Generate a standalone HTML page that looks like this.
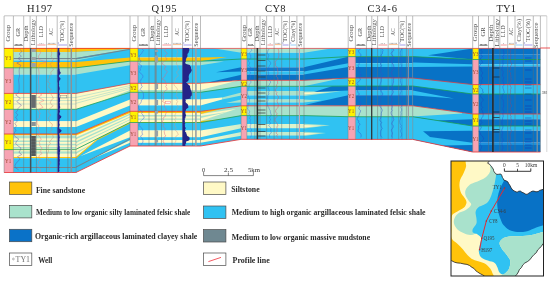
<!DOCTYPE html>
<html lang="en"><head><meta charset="utf-8"><title>Well correlation profile</title>
<style>html,body{margin:0;padding:0;background:#fff;}svg{display:block;}</style></head>
<body>
<svg width="550" height="281" viewBox="0 0 550 281" font-family="'Liberation Serif', serif">
<rect x="0.0" y="0.0" width="550.0" height="281.0" fill="#FFFFFF" />
<defs><linearGradient id="pg" gradientUnits="userSpaceOnUse" x1="205" y1="0" x2="241" y2="0"><stop offset="0" stop-color="#FFF9C6"/><stop offset="1" stop-color="#CDEECD"/></linearGradient></defs>
<polygon points="76.0,48.0 130.0,48.0 130.0,146.0 76.0,172.5" fill="#30C2F2" />
<polygon points="76.0,48.0 130.0,48.0 130.0,49.0 76.0,52.0" fill="#FFC30A" />
<polygon points="76.0,52.0 130.0,49.0 76.0,58.0" fill="#A9E2CC" />
<polygon points="76.0,58.0 130.0,48.7 130.0,49.7 76.0,59.5" fill="#6F8891" />
<polygon points="76.0,59.5 105.0,55.0 76.0,60.4" fill="#A9E2CC" />
<polygon points="76.0,62.0 130.0,57.5 130.0,61.2 76.0,67.8" fill="#FFC30A" />
<polygon points="76.0,67.8 130.0,61.2 130.0,65.2 76.0,74.6" fill="#A9E2CC" />
<polygon points="76.0,93.4 130.0,83.4 130.0,92.3 76.0,109.3" fill="#FFF9C6" />
<polygon points="130.0,90.0 130.0,92.3 100.0,101.7" fill="#A9E2CC" />
<line x1="76.0" y1="97.4" x2="130.0" y2="85.6" stroke="#8FD3C8" stroke-width="0.50" />
<line x1="76.0" y1="100.6" x2="130.0" y2="87.3" stroke="#8FD3C8" stroke-width="0.50" />
<line x1="76.0" y1="103.3" x2="130.0" y2="88.7" stroke="#8FD3C8" stroke-width="0.50" />
<polygon points="76.0,121.3 130.0,99.6 130.0,105.4 76.0,127.0" fill="#FFF9C6" />
<polygon points="76.0,134.0 130.0,111.0 130.0,122.4 76.0,149.3" fill="#FFF9C6" />
<polygon points="76.0,137.4 130.0,113.5 130.0,114.9 76.0,139.2" fill="#A9E2CC" />
<polygon points="76.0,141.3 130.0,116.5 130.0,117.6 76.0,142.9" fill="#A9E2CC" />
<polygon points="76.0,145.0 130.0,119.2 130.0,120.1 76.0,146.2" fill="#A9E2CC" />
<polygon points="76.0,134.0 130.0,111.0 130.0,113.0 76.0,135.6" fill="#FFC30A" />
<polygon points="76.0,149.3 100.0,137.5 76.0,157.0" fill="#FFF9C6" />
<polygon points="76.0,152.0 92.0,144.0 76.0,154.0" fill="#A9E2CC" />
<polygon points="130.0,130.5 130.0,137.2 80.0,156.2" fill="#FFF9C6" />
<polygon points="130.0,140.2 130.0,142.8 86.0,161.5" fill="#FFF9C6" />
<polygon points="76.0,157.0 97.0,139.2 130.0,122.6 130.0,123.4 97.0,140.2 76.0,158.4" fill="#FFC30A" />
<polygon points="76.0,166.6 130.0,138.6 130.0,139.4 76.0,167.8" fill="#6F8891" />
<line x1="76.0" y1="48.4" x2="130.0" y2="48.4" stroke="#EE4A24" stroke-width="1.00" />
<line x1="76.0" y1="67.8" x2="130.0" y2="61.2" stroke="#1A9C4C" stroke-width="0.75" />
<line x1="76.0" y1="93.4" x2="130.0" y2="83.4" stroke="#E8383A" stroke-width="0.75" />
<line x1="76.0" y1="109.3" x2="130.0" y2="92.3" stroke="#1A9C4C" stroke-width="0.75" />
<line x1="76.0" y1="134.0" x2="130.0" y2="111.2" stroke="#E8383A" stroke-width="0.75" />
<line x1="76.0" y1="149.3" x2="130.0" y2="122.4" stroke="#1A9C4C" stroke-width="0.75" />
<line x1="76.0" y1="172.5" x2="130.0" y2="146.0" stroke="#E8383A" stroke-width="0.85" />
<polygon points="200.5,48.0 241.3,48.0 241.3,139.3 200.5,146.0" fill="#30C2F2" />
<polygon points="241.3,48.0 213.0,48.3 241.3,52.8" fill="#A9E2CC" />
<polygon points="200.5,57.5 227.0,57.0 200.5,61.2" fill="#FFC30A" />
<polygon points="200.5,61.2 224.0,61.4 200.5,65.2" fill="#A9E2CC" />
<polygon points="241.3,67.3 216.0,72.3 241.3,71.4" fill="#0872C6" />
<polygon points="241.3,74.8 209.0,82.3 241.3,80.3" fill="#0872C6" />
<polygon points="200.5,83.2 241.3,80.3 241.3,86.3 200.5,92.3" fill="#A9E2CC" />
<polygon points="200.5,83.2 238.0,80.6 200.5,90.0" fill="#FFF9C6" />
<polygon points="200.5,99.6 222.0,97.6 222.0,99.4 200.5,105.4" fill="#FFF9C6" />
<polygon points="222.0,97.6 241.3,92.5 241.3,95.6 222.0,99.4" fill="#A9E2CC" />
<polygon points="241.3,99.6 226.0,103.0 241.3,102.4" fill="#A9E2CC" />
<polygon points="200.5,111.4 241.3,105.8 241.3,115.6 200.5,122.6" fill="#A9E2CC" />
<polygon points="200.5,114.0 236.0,109.0 200.5,121.0" fill="#FFF9C6" />
<polygon points="200.5,116.0 230.0,111.5 200.5,118.0" fill="#A9E2CC" />
<polygon points="200.5,111.4 226.0,107.9 200.5,114.0" fill="#FFC30A" />
<polygon points="200.5,121.0 222.0,119.3 200.5,122.6" fill="#FFC30A" />
<polygon points="200.5,130.5 241.3,124.0 241.3,128.2 200.5,137.2" fill="url(#pg)" />
<polygon points="200.5,140.2 241.3,132.0 241.3,135.8 200.5,142.8" fill="url(#pg)" />
<line x1="200.5" y1="48.4" x2="241.3" y2="48.4" stroke="#EE5A5A" stroke-width="0.85" />
<line x1="200.5" y1="61.2" x2="241.3" y2="59.0" stroke="#1A9C4C" stroke-width="0.75" />
<line x1="200.5" y1="83.2" x2="241.3" y2="80.3" stroke="#E8383A" stroke-width="0.75" />
<line x1="200.5" y1="92.3" x2="241.3" y2="86.3" stroke="#1A9C4C" stroke-width="0.75" />
<line x1="200.5" y1="111.4" x2="241.3" y2="105.8" stroke="#E8383A" stroke-width="0.75" />
<line x1="200.5" y1="122.6" x2="241.3" y2="115.6" stroke="#1A9C4C" stroke-width="0.75" />
<line x1="200.5" y1="146.0" x2="241.3" y2="139.3" stroke="#E8383A" stroke-width="0.85" />
<polygon points="304.0,48.0 348.2,48.0 348.2,139.4 304.0,139.3" fill="#30C2F2" />
<polygon points="304.0,48.3 331.0,48.6 304.0,52.8" fill="#A9E2CC" />
<polygon points="304.0,67.3 348.2,56.8 348.2,63.2 304.0,71.4" fill="#0872C6" />
<polygon points="304.0,74.6 348.2,67.0 348.2,78.0 304.0,80.3" fill="#0872C6" />
<polygon points="304.0,80.5 340.0,78.6 304.0,86.2" fill="#A9E2CC" />
<polygon points="304.0,91.4 341.0,91.3 304.0,96.0" fill="#A9E2CC" />
<polygon points="304.0,92.6 330.0,92.0 304.0,94.6" fill="#FFF9C6" />
<polygon points="348.2,86.2 332.0,86.3 314.0,92.0 348.2,90.6" fill="#0872C6" />
<polygon points="348.2,95.2 305.5,104.8 348.2,105.8" fill="#0872C6" />
<polygon points="304.0,99.6 322.0,100.4 304.0,102.4" fill="#A9E2CC" />
<polygon points="304.0,105.8 348.2,105.8 348.2,116.7 304.0,115.6" fill="#A9E2CC" />
<polygon points="304.0,123.8 330.0,125.3 304.0,128.5" fill="#A9E2CC" />
<polygon points="304.0,125.0 322.0,125.8 304.0,127.4" fill="#FFF9C6" />
<polygon points="304.0,131.8 326.0,133.0 304.0,136.0" fill="#A9E2CC" />
<polygon points="304.0,133.0 319.0,133.5 304.0,135.0" fill="#FFF9C6" />
<line x1="304.0" y1="48.4" x2="348.2" y2="48.4" stroke="#EE5A5A" stroke-width="0.85" />
<line x1="304.0" y1="59.0" x2="348.2" y2="56.6" stroke="#1A9C4C" stroke-width="0.75" />
<line x1="304.0" y1="80.3" x2="348.2" y2="78.0" stroke="#E8383A" stroke-width="0.75" />
<line x1="304.0" y1="86.3" x2="348.2" y2="86.0" stroke="#1A9C4C" stroke-width="0.75" />
<line x1="304.0" y1="105.8" x2="348.2" y2="105.8" stroke="#E8383A" stroke-width="0.75" />
<line x1="304.0" y1="115.6" x2="348.2" y2="116.7" stroke="#1A9C4C" stroke-width="0.75" />
<line x1="304.0" y1="139.3" x2="348.2" y2="139.4" stroke="#E8383A" stroke-width="0.85" />
<polygon points="412.8,48.0 472.7,48.0 472.7,152.0 412.8,139.4" fill="#0872C6" />
<polygon points="412.8,48.0 472.7,48.0 472.7,59.5 412.8,56.6" fill="#30C2F2" />
<polygon points="428.0,55.3 472.7,48.6 472.7,59.5" fill="#0872C6" />
<polygon points="412.8,62.5 472.7,64.3 472.7,66.4 412.8,67.0" fill="#30C2F2" />
<polygon points="412.8,78.0 472.7,84.6 472.7,94.0 412.8,86.0" fill="#30C2F2" />
<polygon points="412.8,90.6 454.0,98.5 412.8,95.2" fill="#30C2F2" />
<polygon points="412.8,105.8 472.7,114.0 472.7,126.0 412.8,116.7" fill="#30C2F2" />
<polygon points="412.8,105.8 462.0,112.6 462.0,113.6 412.8,116.4" fill="#A9E2CC" />
<polygon points="472.7,119.2 436.0,120.6 472.7,126.0" fill="#0872C6" />
<polygon points="412.8,116.7 412.8,139.4 472.7,152.0 472.7,126.0" fill="#30C2F2" />
<polygon points="472.7,130.7 423.0,131.2 430.0,137.0 472.7,142.7" fill="#0872C6" />
<polygon points="472.7,145.0 442.0,145.5 472.7,152.0" fill="#0872C6" />
<line x1="412.8" y1="48.4" x2="472.7" y2="48.4" stroke="#EE5A5A" stroke-width="0.85" />
<line x1="412.8" y1="56.6" x2="472.7" y2="59.5" stroke="#1A9C4C" stroke-width="0.75" />
<line x1="412.8" y1="78.0" x2="472.7" y2="84.6" stroke="#E8383A" stroke-width="0.75" />
<line x1="412.8" y1="86.0" x2="472.7" y2="94.0" stroke="#1A9C4C" stroke-width="0.75" />
<line x1="412.8" y1="105.8" x2="472.7" y2="114.0" stroke="#E8383A" stroke-width="0.75" />
<line x1="412.8" y1="116.7" x2="472.7" y2="126.0" stroke="#1A9C4C" stroke-width="0.75" />
<line x1="412.8" y1="139.4" x2="472.7" y2="152.0" stroke="#E8383A" stroke-width="0.85" />
<rect x="4.1" y="16.0" width="71.8" height="32.0" fill="#FFFFFF" />
<rect x="13.4" y="48.0" width="62.5" height="4.0" fill="#FFC30A" />
<rect x="13.4" y="52.0" width="62.5" height="6.0" fill="#A9E2CC" />
<rect x="13.4" y="58.0" width="62.5" height="1.5" fill="#6F8891" />
<rect x="13.4" y="59.5" width="62.5" height="0.9" fill="#A9E2CC" />
<rect x="13.4" y="60.4" width="62.5" height="1.6" fill="#30C2F2" />
<rect x="13.4" y="62.0" width="62.5" height="5.8" fill="#FFC30A" />
<rect x="13.4" y="67.8" width="62.5" height="6.8" fill="#A9E2CC" />
<rect x="13.4" y="74.6" width="62.5" height="18.8" fill="#30C2F2" />
<rect x="13.4" y="93.4" width="62.5" height="15.9" fill="#FFF9C6" />
<rect x="13.4" y="109.3" width="62.5" height="12.0" fill="#30C2F2" />
<rect x="13.4" y="121.3" width="62.5" height="5.7" fill="#FFF9C6" />
<rect x="13.4" y="127.0" width="62.5" height="7.0" fill="#30C2F2" />
<rect x="13.4" y="134.0" width="62.5" height="1.5" fill="#FFC30A" />
<rect x="13.4" y="135.5" width="62.5" height="21.5" fill="#FFF9C6" />
<rect x="13.4" y="157.0" width="62.5" height="1.2" fill="#FFC30A" />
<rect x="13.4" y="158.2" width="62.5" height="8.8" fill="#30C2F2" />
<rect x="13.4" y="167.0" width="62.5" height="1.0" fill="#6F8891" />
<rect x="13.4" y="168.0" width="62.5" height="4.5" fill="#30C2F2" />
<rect x="4.1" y="48.0" width="9.3" height="20.0" fill="#FFF200" />
<text transform="translate(8.1,60.1) scale(1,1.28)" font-size="5" text-anchor="middle" fill="#9c4a34">Y3</text>
<rect x="4.1" y="68.0" width="9.3" height="25.4" fill="#F7A3B2" />
<text transform="translate(8.1,82.9) scale(1,1.28)" font-size="5" text-anchor="middle" fill="#9c4a34">Y3</text>
<rect x="4.1" y="93.4" width="9.3" height="15.9" fill="#FFF200" />
<text transform="translate(8.1,103.5) scale(1,1.28)" font-size="5" text-anchor="middle" fill="#9c4a34">Y2</text>
<rect x="4.1" y="109.3" width="9.3" height="24.7" fill="#F7A3B2" />
<text transform="translate(8.1,123.8) scale(1,1.28)" font-size="5" text-anchor="middle" fill="#9c4a34">Y2</text>
<rect x="4.1" y="134.0" width="9.3" height="16.0" fill="#FFF200" />
<text transform="translate(8.1,144.2) scale(1,1.28)" font-size="5" text-anchor="middle" fill="#9c4a34">Y1</text>
<rect x="4.1" y="150.0" width="9.3" height="22.5" fill="#F7A3B2" />
<text transform="translate(8.1,163.4) scale(1,1.28)" font-size="5" text-anchor="middle" fill="#9c4a34">Y1</text>
<rect x="130.0" y="16.0" width="70.5" height="32.0" fill="#FFFFFF" />
<rect x="138.0" y="48.0" width="62.5" height="9.5" fill="#30C2F2" />
<rect x="138.0" y="57.5" width="62.5" height="3.7" fill="#FFC30A" />
<rect x="138.0" y="61.2" width="62.5" height="4.0" fill="#A9E2CC" />
<rect x="138.0" y="65.2" width="62.5" height="17.8" fill="#30C2F2" />
<rect x="138.0" y="83.0" width="62.5" height="7.0" fill="#FFF9C6" />
<rect x="138.0" y="90.0" width="62.5" height="2.3" fill="#A9E2CC" />
<rect x="138.0" y="92.3" width="62.5" height="7.3" fill="#30C2F2" />
<rect x="138.0" y="99.6" width="62.5" height="5.8" fill="#FFF9C6" />
<rect x="138.0" y="105.4" width="62.5" height="5.6" fill="#30C2F2" />
<rect x="138.0" y="111.0" width="62.5" height="2.0" fill="#FFC30A" />
<rect x="138.0" y="113.0" width="62.5" height="9.0" fill="#FFF9C6" />
<rect x="138.0" y="122.0" width="62.5" height="0.8" fill="#FFC30A" />
<rect x="138.0" y="122.8" width="62.5" height="7.7" fill="#30C2F2" />
<rect x="138.0" y="130.5" width="62.5" height="6.7" fill="#FFF9C6" />
<rect x="138.0" y="137.2" width="62.5" height="3.0" fill="#30C2F2" />
<rect x="138.0" y="140.2" width="62.5" height="2.6" fill="#FFF9C6" />
<rect x="138.0" y="142.8" width="62.5" height="3.2" fill="#30C2F2" />
<rect x="130.0" y="48.0" width="8.0" height="13.3" fill="#FFF200" />
<text transform="translate(133.3,56.8) scale(1,1.28)" font-size="5" text-anchor="middle" fill="#9c4a34">Y3</text>
<rect x="130.0" y="61.3" width="8.0" height="22.1" fill="#F7A3B2" />
<text transform="translate(133.3,74.5) scale(1,1.28)" font-size="5" text-anchor="middle" fill="#9c4a34">Y3</text>
<rect x="130.0" y="83.4" width="8.0" height="8.9" fill="#FFF200" />
<text transform="translate(133.3,90.0) scale(1,1.28)" font-size="5" text-anchor="middle" fill="#9c4a34">Y2</text>
<rect x="130.0" y="92.3" width="8.0" height="19.0" fill="#F7A3B2" />
<text transform="translate(133.3,104.0) scale(1,1.28)" font-size="5" text-anchor="middle" fill="#9c4a34">Y2</text>
<rect x="130.0" y="111.3" width="8.0" height="11.2" fill="#FFF200" />
<text transform="translate(133.3,119.1) scale(1,1.28)" font-size="5" text-anchor="middle" fill="#9c4a34">Y1</text>
<rect x="130.0" y="122.5" width="8.0" height="23.5" fill="#F7A3B2" />
<text transform="translate(133.3,136.4) scale(1,1.28)" font-size="5" text-anchor="middle" fill="#9c4a34">Y1</text>
<rect x="241.2" y="16.0" width="62.8" height="32.0" fill="#FFFFFF" />
<rect x="246.8" y="48.0" width="57.2" height="4.8" fill="#A9E2CC" />
<rect x="246.8" y="52.8" width="57.2" height="14.5" fill="#30C2F2" />
<rect x="246.8" y="67.3" width="57.2" height="4.1" fill="#0F7CCE" />
<rect x="246.8" y="71.4" width="57.2" height="3.2" fill="#30C2F2" />
<rect x="246.8" y="74.6" width="57.2" height="5.7" fill="#0872C6" />
<rect x="246.8" y="80.3" width="57.2" height="6.0" fill="#A9E2CC" />
<rect x="246.8" y="86.3" width="57.2" height="4.7" fill="#30C2F2" />
<rect x="246.8" y="91.0" width="57.2" height="4.4" fill="#A9E2CC" />
<rect x="246.8" y="95.4" width="57.2" height="4.2" fill="#30C2F2" />
<rect x="246.8" y="99.6" width="57.2" height="2.8" fill="#A9E2CC" />
<rect x="246.8" y="102.4" width="57.2" height="3.4" fill="#30C2F2" />
<rect x="246.8" y="105.8" width="57.2" height="9.8" fill="#A9E2CC" />
<rect x="246.8" y="115.6" width="57.2" height="8.4" fill="#30C2F2" />
<rect x="246.8" y="124.0" width="57.2" height="4.2" fill="#DDF3CC" />
<rect x="246.8" y="128.2" width="57.2" height="3.8" fill="#30C2F2" />
<rect x="246.8" y="132.0" width="57.2" height="3.8" fill="#C4EBCD" />
<rect x="246.8" y="135.5" width="57.2" height="3.8" fill="#30C2F2" />
<rect x="241.2" y="48.0" width="5.6" height="11.0" fill="#FFF200" />
<text transform="translate(243.9,55.6) scale(1,1.28)" font-size="5" text-anchor="middle" fill="#9c4a34">Y3</text>
<rect x="241.2" y="59.0" width="5.6" height="21.3" fill="#F7A3B2" />
<text transform="translate(243.9,71.8) scale(1,1.28)" font-size="5" text-anchor="middle" fill="#9c4a34">Y3</text>
<rect x="241.2" y="80.3" width="5.6" height="6.0" fill="#FFF200" />
<text transform="translate(243.9,85.5) scale(1,1.28)" font-size="5" text-anchor="middle" fill="#9c4a34">Y2</text>
<rect x="241.2" y="86.3" width="5.6" height="19.5" fill="#F7A3B2" />
<text transform="translate(243.9,98.2) scale(1,1.28)" font-size="5" text-anchor="middle" fill="#9c4a34">Y2</text>
<rect x="241.2" y="105.8" width="5.6" height="9.8" fill="#FFF200" />
<text transform="translate(243.9,112.8) scale(1,1.28)" font-size="5" text-anchor="middle" fill="#9c4a34">Y1</text>
<rect x="241.2" y="115.6" width="5.6" height="23.7" fill="#F7A3B2" />
<text transform="translate(243.9,129.6) scale(1,1.28)" font-size="5" text-anchor="middle" fill="#9c4a34">Y1</text>
<rect x="348.2" y="16.0" width="64.5" height="32.0" fill="#FFFFFF" />
<rect x="355.4" y="48.0" width="57.3" height="8.6" fill="#30C2F2" />
<rect x="355.4" y="56.6" width="57.3" height="6.6" fill="#0872C6" />
<rect x="355.4" y="63.2" width="57.3" height="3.8" fill="#30C2F2" />
<rect x="355.4" y="67.0" width="57.3" height="11.0" fill="#0872C6" />
<rect x="355.4" y="78.0" width="57.3" height="8.0" fill="#30C2F2" />
<rect x="355.4" y="86.0" width="57.3" height="4.6" fill="#0872C6" />
<rect x="355.4" y="90.6" width="57.3" height="4.6" fill="#30C2F2" />
<rect x="355.4" y="95.2" width="57.3" height="10.6" fill="#0872C6" />
<rect x="355.4" y="105.8" width="57.3" height="10.9" fill="#A9E2CC" />
<rect x="355.4" y="116.7" width="57.3" height="22.7" fill="#30C2F2" />
<rect x="348.2" y="48.0" width="7.2" height="8.6" fill="#FFF200" />
<text transform="translate(351.1,54.4) scale(1,1.28)" font-size="5" text-anchor="middle" fill="#9c4a34">Y3</text>
<rect x="348.2" y="56.6" width="7.2" height="21.4" fill="#F7A3B2" />
<text transform="translate(351.1,69.5) scale(1,1.28)" font-size="5" text-anchor="middle" fill="#9c4a34">Y3</text>
<rect x="348.2" y="78.0" width="7.2" height="8.0" fill="#FFF200" />
<text transform="translate(351.1,84.2) scale(1,1.28)" font-size="5" text-anchor="middle" fill="#9c4a34">Y2</text>
<rect x="348.2" y="86.0" width="7.2" height="19.8" fill="#F7A3B2" />
<text transform="translate(351.1,98.1) scale(1,1.28)" font-size="5" text-anchor="middle" fill="#9c4a34">Y2</text>
<rect x="348.2" y="105.8" width="7.2" height="10.9" fill="#FFF200" />
<text transform="translate(351.1,113.4) scale(1,1.28)" font-size="5" text-anchor="middle" fill="#9c4a34">Y1</text>
<rect x="348.2" y="116.7" width="7.2" height="22.7" fill="#F7A3B2" />
<text transform="translate(351.1,130.2) scale(1,1.28)" font-size="5" text-anchor="middle" fill="#9c4a34">Y1</text>
<rect x="472.7" y="16.0" width="67.7" height="32.0" fill="#FFFFFF" />
<rect x="478.5" y="48.0" width="61.9" height="6.7" fill="#0872C6" />
<rect x="478.5" y="54.7" width="61.9" height="9.6" fill="#0F7FD2" />
<rect x="478.5" y="64.3" width="61.9" height="2.1" fill="#30C2F2" />
<rect x="478.5" y="66.4" width="61.9" height="18.2" fill="#0872C6" />
<rect x="478.5" y="84.6" width="61.9" height="9.4" fill="#30C2F2" />
<rect x="478.5" y="94.0" width="61.9" height="20.0" fill="#0872C6" />
<rect x="478.5" y="114.0" width="61.9" height="5.2" fill="#30C2F2" />
<rect x="478.5" y="119.2" width="61.9" height="6.8" fill="#0872C6" />
<rect x="478.5" y="126.0" width="61.9" height="4.7" fill="#30C2F2" />
<rect x="478.5" y="130.7" width="61.9" height="12.0" fill="#0872C6" />
<rect x="478.5" y="142.7" width="61.9" height="2.3" fill="#1C90DC" />
<rect x="478.5" y="145.0" width="61.9" height="7.0" fill="#0872C6" />
<rect x="472.7" y="48.0" width="5.8" height="11.5" fill="#FFF200" />
<text transform="translate(475.5,55.9) scale(1,1.28)" font-size="5" text-anchor="middle" fill="#9c4a34">Y3</text>
<rect x="472.7" y="59.5" width="5.8" height="25.1" fill="#F7A3B2" />
<text transform="translate(475.5,74.2) scale(1,1.28)" font-size="5" text-anchor="middle" fill="#9c4a34">Y3</text>
<rect x="472.7" y="84.6" width="5.8" height="9.4" fill="#FFF200" />
<text transform="translate(475.5,91.5) scale(1,1.28)" font-size="5" text-anchor="middle" fill="#9c4a34">Y2</text>
<rect x="472.7" y="94.0" width="5.8" height="20.0" fill="#F7A3B2" />
<text transform="translate(475.5,106.2) scale(1,1.28)" font-size="5" text-anchor="middle" fill="#9c4a34">Y2</text>
<rect x="472.7" y="114.0" width="5.8" height="12.0" fill="#FFF200" />
<text transform="translate(475.5,122.2) scale(1,1.28)" font-size="5" text-anchor="middle" fill="#9c4a34">Y1</text>
<rect x="472.7" y="126.0" width="5.8" height="26.0" fill="#F7A3B2" />
<text transform="translate(475.5,141.2) scale(1,1.28)" font-size="5" text-anchor="middle" fill="#9c4a34">Y1</text>
<line x1="13.4" y1="97.5" x2="75.9" y2="97.5" stroke="#8FD3C8" stroke-width="0.50" />
<line x1="13.4" y1="100.5" x2="75.9" y2="100.5" stroke="#8FD3C8" stroke-width="0.50" />
<line x1="13.4" y1="104.0" x2="75.9" y2="104.0" stroke="#8FD3C8" stroke-width="0.50" />
<rect x="13.4" y="135.5" width="62.5" height="2.8" fill="#A9E2CC" />
<rect x="13.4" y="140.5" width="62.5" height="1.5" fill="#A9E2CC" />
<rect x="13.4" y="143.8" width="62.5" height="1.5" fill="#A9E2CC" />
<rect x="13.4" y="147.0" width="62.5" height="1.6" fill="#A9E2CC" />
<rect x="13.4" y="151.4" width="62.5" height="2.2" fill="#A9E2CC" />
<rect x="138.0" y="115.0" width="62.5" height="1.5" fill="#A9E2CC" />
<rect x="138.0" y="118.5" width="62.5" height="1.3" fill="#A9E2CC" />
<line x1="4.1" y1="48.4" x2="75.9" y2="48.4" stroke="#EE4A24" stroke-width="1.00" />
<line x1="4.1" y1="67.8" x2="75.9" y2="67.8" stroke="#1A9C4C" stroke-width="0.75" />
<line x1="4.1" y1="93.4" x2="75.9" y2="93.4" stroke="#E8383A" stroke-width="0.85" />
<line x1="4.1" y1="109.3" x2="75.9" y2="109.3" stroke="#1A9C4C" stroke-width="0.75" />
<line x1="4.1" y1="134.0" x2="75.9" y2="134.0" stroke="#E8383A" stroke-width="0.85" />
<line x1="4.1" y1="149.6" x2="75.9" y2="149.6" stroke="#1A9C4C" stroke-width="0.75" />
<line x1="4.1" y1="172.5" x2="75.9" y2="172.5" stroke="#E8383A" stroke-width="0.85" />
<line x1="130.0" y1="48.4" x2="200.5" y2="48.4" stroke="#EE5A5A" stroke-width="0.85" />
<line x1="130.0" y1="61.2" x2="200.5" y2="61.2" stroke="#1A9C4C" stroke-width="0.75" />
<line x1="130.0" y1="83.3" x2="200.5" y2="83.3" stroke="#E8383A" stroke-width="0.85" />
<line x1="130.0" y1="92.3" x2="200.5" y2="92.3" stroke="#1A9C4C" stroke-width="0.75" />
<line x1="130.0" y1="111.3" x2="200.5" y2="111.3" stroke="#E8383A" stroke-width="0.85" />
<line x1="130.0" y1="122.5" x2="200.5" y2="122.5" stroke="#1A9C4C" stroke-width="0.75" />
<line x1="130.0" y1="146.0" x2="200.5" y2="146.0" stroke="#E8383A" stroke-width="0.85" />
<line x1="241.2" y1="48.4" x2="304.0" y2="48.4" stroke="#EE5A5A" stroke-width="0.85" />
<line x1="241.2" y1="59.0" x2="304.0" y2="59.0" stroke="#1A9C4C" stroke-width="0.75" />
<line x1="241.2" y1="80.3" x2="304.0" y2="80.3" stroke="#E8383A" stroke-width="0.85" />
<line x1="241.2" y1="86.3" x2="304.0" y2="86.3" stroke="#1A9C4C" stroke-width="0.75" />
<line x1="241.2" y1="105.8" x2="304.0" y2="105.8" stroke="#E8383A" stroke-width="0.85" />
<line x1="241.2" y1="115.6" x2="304.0" y2="115.6" stroke="#1A9C4C" stroke-width="0.75" />
<line x1="241.2" y1="139.3" x2="304.0" y2="139.3" stroke="#E8383A" stroke-width="0.85" />
<line x1="348.2" y1="48.4" x2="412.7" y2="48.4" stroke="#EE5A5A" stroke-width="0.85" />
<line x1="348.2" y1="56.6" x2="412.7" y2="56.6" stroke="#1A9C4C" stroke-width="0.75" />
<line x1="348.2" y1="78.0" x2="412.7" y2="78.0" stroke="#E8383A" stroke-width="0.85" />
<line x1="348.2" y1="86.0" x2="412.7" y2="86.0" stroke="#1A9C4C" stroke-width="0.75" />
<line x1="348.2" y1="105.8" x2="412.7" y2="105.8" stroke="#E8383A" stroke-width="0.85" />
<line x1="348.2" y1="116.7" x2="412.7" y2="116.7" stroke="#1A9C4C" stroke-width="0.75" />
<line x1="348.2" y1="139.4" x2="412.7" y2="139.4" stroke="#E8383A" stroke-width="0.85" />
<line x1="472.7" y1="48.4" x2="540.4" y2="48.4" stroke="#EE5A5A" stroke-width="0.85" />
<line x1="472.7" y1="59.5" x2="540.4" y2="59.5" stroke="#1A9C4C" stroke-width="0.75" />
<line x1="472.7" y1="84.6" x2="540.4" y2="84.6" stroke="#E8383A" stroke-width="0.85" />
<line x1="472.7" y1="94.0" x2="540.4" y2="94.0" stroke="#1A9C4C" stroke-width="0.75" />
<line x1="472.7" y1="114.0" x2="540.4" y2="114.0" stroke="#E8383A" stroke-width="0.85" />
<line x1="472.7" y1="126.0" x2="540.4" y2="126.0" stroke="#1A9C4C" stroke-width="0.75" />
<line x1="472.7" y1="152.0" x2="540.4" y2="152.0" stroke="#E8383A" stroke-width="0.85" />
<line x1="4.1" y1="16.0" x2="4.1" y2="172.5" stroke="#6b6b6b" stroke-width="0.45" />
<line x1="13.4" y1="16.0" x2="13.4" y2="172.5" stroke="#6b6b6b" stroke-width="0.45" />
<line x1="23.7" y1="16.0" x2="23.7" y2="172.5" stroke="#6b6b6b" stroke-width="0.45" />
<line x1="30.1" y1="16.0" x2="30.1" y2="172.5" stroke="#6b6b6b" stroke-width="0.45" />
<line x1="36.4" y1="16.0" x2="36.4" y2="172.5" stroke="#6b6b6b" stroke-width="0.45" />
<line x1="46.5" y1="16.0" x2="46.5" y2="172.5" stroke="#6b6b6b" stroke-width="0.45" />
<line x1="57.2" y1="16.0" x2="57.2" y2="172.5" stroke="#6b6b6b" stroke-width="0.45" />
<line x1="67.9" y1="16.0" x2="67.9" y2="172.5" stroke="#6b6b6b" stroke-width="0.45" />
<line x1="75.9" y1="16.0" x2="75.9" y2="172.5" stroke="#6b6b6b" stroke-width="0.45" />
<text transform="translate(10.2,41.6) rotate(-90)" font-size="6.5" textLength="16.7" lengthAdjust="spacingAndGlyphs" fill="#4c4c4c">Group</text>
<text transform="translate(20.1,36.5) rotate(-90)" font-size="6.3" textLength="8.7" lengthAdjust="spacingAndGlyphs" fill="#4c4c4c">GR</text>
<text transform="translate(28.4,41.6) rotate(-90)" font-size="6.5" textLength="16.2" lengthAdjust="spacingAndGlyphs" fill="#4c4c4c">Depth</text>
<text transform="translate(34.8,45.3) rotate(-90)" font-size="6.5" textLength="26.2" lengthAdjust="spacingAndGlyphs" fill="#4c4c4c">Lithology</text>
<text transform="translate(43.0,37.3) rotate(-90)" font-size="5.8" textLength="11.2" lengthAdjust="spacingAndGlyphs" fill="#4c4c4c">LLD</text>
<text transform="translate(53.4,35.8) rotate(-90)" font-size="5.4" textLength="7.4" lengthAdjust="spacingAndGlyphs" fill="#4c4c4c">AC</text>
<text transform="translate(64.1,41.8) rotate(-90)" font-size="6.0" textLength="21.2" lengthAdjust="spacingAndGlyphs" fill="#4c4c4c">TOC(%)</text>
<text transform="translate(73.4,46.8) rotate(-90)" font-size="6.3" textLength="24.0" lengthAdjust="spacingAndGlyphs" fill="#4c4c4c">Sequence</text>
<text x="26.9" y="12" font-size="10.5" fill="#222" textLength="25.1" lengthAdjust="spacing">H197</text>
<line x1="130.0" y1="16.0" x2="130.0" y2="146.0" stroke="#6b6b6b" stroke-width="0.45" />
<line x1="138.0" y1="16.0" x2="138.0" y2="146.0" stroke="#6b6b6b" stroke-width="0.45" />
<line x1="149.0" y1="16.0" x2="149.0" y2="146.0" stroke="#6b6b6b" stroke-width="0.45" />
<line x1="155.0" y1="16.0" x2="155.0" y2="146.0" stroke="#6b6b6b" stroke-width="0.45" />
<line x1="161.5" y1="16.0" x2="161.5" y2="146.0" stroke="#6b6b6b" stroke-width="0.45" />
<line x1="172.0" y1="16.0" x2="172.0" y2="146.0" stroke="#6b6b6b" stroke-width="0.45" />
<line x1="182.5" y1="16.0" x2="182.5" y2="146.0" stroke="#6b6b6b" stroke-width="0.45" />
<line x1="192.5" y1="16.0" x2="192.5" y2="146.0" stroke="#6b6b6b" stroke-width="0.45" />
<line x1="200.5" y1="16.0" x2="200.5" y2="146.0" stroke="#6b6b6b" stroke-width="0.45" />
<text transform="translate(135.5,41.6) rotate(-90)" font-size="6.5" textLength="16.7" lengthAdjust="spacingAndGlyphs" fill="#4c4c4c">Group</text>
<text transform="translate(145.0,36.5) rotate(-90)" font-size="6.3" textLength="8.7" lengthAdjust="spacingAndGlyphs" fill="#4c4c4c">GR</text>
<text transform="translate(153.5,41.6) rotate(-90)" font-size="6.5" textLength="16.2" lengthAdjust="spacingAndGlyphs" fill="#4c4c4c">Depth</text>
<text transform="translate(159.8,45.3) rotate(-90)" font-size="6.5" textLength="26.2" lengthAdjust="spacingAndGlyphs" fill="#4c4c4c">Lithology</text>
<text transform="translate(168.2,37.3) rotate(-90)" font-size="5.8" textLength="11.2" lengthAdjust="spacingAndGlyphs" fill="#4c4c4c">LLD</text>
<text transform="translate(178.8,35.8) rotate(-90)" font-size="5.4" textLength="7.4" lengthAdjust="spacingAndGlyphs" fill="#4c4c4c">AC</text>
<text transform="translate(189.0,41.8) rotate(-90)" font-size="6.0" textLength="21.2" lengthAdjust="spacingAndGlyphs" fill="#4c4c4c">TOC(%)</text>
<text transform="translate(198.0,46.8) rotate(-90)" font-size="6.3" textLength="24.0" lengthAdjust="spacingAndGlyphs" fill="#4c4c4c">Sequence</text>
<text x="151.6" y="12" font-size="10.5" fill="#222" textLength="24.8" lengthAdjust="spacing">Q195</text>
<line x1="241.2" y1="16.0" x2="241.2" y2="139.3" stroke="#6b6b6b" stroke-width="0.45" />
<line x1="246.8" y1="16.0" x2="246.8" y2="139.3" stroke="#6b6b6b" stroke-width="0.45" />
<line x1="254.8" y1="16.0" x2="254.8" y2="139.3" stroke="#6b6b6b" stroke-width="0.45" />
<line x1="260.0" y1="16.0" x2="260.0" y2="139.3" stroke="#6b6b6b" stroke-width="0.45" />
<line x1="266.6" y1="16.0" x2="266.6" y2="139.3" stroke="#6b6b6b" stroke-width="0.45" />
<line x1="274.1" y1="16.0" x2="274.1" y2="139.3" stroke="#6b6b6b" stroke-width="0.45" />
<line x1="281.7" y1="16.0" x2="281.7" y2="139.3" stroke="#6b6b6b" stroke-width="0.45" />
<line x1="289.5" y1="16.0" x2="289.5" y2="139.3" stroke="#6b6b6b" stroke-width="0.45" />
<line x1="296.9" y1="16.0" x2="296.9" y2="139.3" stroke="#6b6b6b" stroke-width="0.45" />
<line x1="304.0" y1="16.0" x2="304.0" y2="139.3" stroke="#6b6b6b" stroke-width="0.45" />
<text transform="translate(245.5,41.6) rotate(-90)" font-size="6.5" textLength="16.7" lengthAdjust="spacingAndGlyphs" fill="#4c4c4c">Group</text>
<text transform="translate(252.3,36.5) rotate(-90)" font-size="6.3" textLength="8.7" lengthAdjust="spacingAndGlyphs" fill="#4c4c4c">GR</text>
<text transform="translate(258.9,41.6) rotate(-90)" font-size="6.5" textLength="16.2" lengthAdjust="spacingAndGlyphs" fill="#4c4c4c">Depth</text>
<text transform="translate(264.8,45.3) rotate(-90)" font-size="6.5" textLength="26.2" lengthAdjust="spacingAndGlyphs" fill="#4c4c4c">Lithology</text>
<text transform="translate(271.9,37.3) rotate(-90)" font-size="5.8" textLength="11.2" lengthAdjust="spacingAndGlyphs" fill="#4c4c4c">LLD</text>
<text transform="translate(279.4,35.8) rotate(-90)" font-size="5.4" textLength="7.4" lengthAdjust="spacingAndGlyphs" fill="#4c4c4c">AC</text>
<text transform="translate(287.1,41.8) rotate(-90)" font-size="6.0" textLength="21.2" lengthAdjust="spacingAndGlyphs" fill="#4c4c4c">TOC(%)</text>
<text transform="translate(294.7,41.8) rotate(-90)" font-size="6.0" textLength="21.2" lengthAdjust="spacingAndGlyphs" fill="#4c4c4c">Clay(%)</text>
<text transform="translate(301.9,46.8) rotate(-90)" font-size="6.3" textLength="24.0" lengthAdjust="spacingAndGlyphs" fill="#4c4c4c">Sequence</text>
<text x="265.1" y="12" font-size="10.5" fill="#222" textLength="20.4" lengthAdjust="spacing">CY8</text>
<line x1="348.2" y1="16.0" x2="348.2" y2="139.4" stroke="#6b6b6b" stroke-width="0.45" />
<line x1="355.4" y1="16.0" x2="355.4" y2="139.4" stroke="#6b6b6b" stroke-width="0.45" />
<line x1="366.4" y1="16.0" x2="366.4" y2="139.4" stroke="#6b6b6b" stroke-width="0.45" />
<line x1="371.8" y1="16.0" x2="371.8" y2="139.4" stroke="#6b6b6b" stroke-width="0.45" />
<line x1="377.6" y1="16.0" x2="377.6" y2="139.4" stroke="#6b6b6b" stroke-width="0.45" />
<line x1="388.2" y1="16.0" x2="388.2" y2="139.4" stroke="#6b6b6b" stroke-width="0.45" />
<line x1="398.7" y1="16.0" x2="398.7" y2="139.4" stroke="#6b6b6b" stroke-width="0.45" />
<line x1="406.4" y1="16.0" x2="406.4" y2="139.4" stroke="#6b6b6b" stroke-width="0.45" />
<line x1="412.7" y1="16.0" x2="412.7" y2="139.4" stroke="#6b6b6b" stroke-width="0.45" />
<text transform="translate(353.3,41.6) rotate(-90)" font-size="6.5" textLength="16.7" lengthAdjust="spacingAndGlyphs" fill="#4c4c4c">Group</text>
<text transform="translate(362.4,36.5) rotate(-90)" font-size="6.3" textLength="8.7" lengthAdjust="spacingAndGlyphs" fill="#4c4c4c">GR</text>
<text transform="translate(370.6,41.6) rotate(-90)" font-size="6.5" textLength="16.2" lengthAdjust="spacingAndGlyphs" fill="#4c4c4c">Depth</text>
<text transform="translate(376.2,45.3) rotate(-90)" font-size="6.5" textLength="26.2" lengthAdjust="spacingAndGlyphs" fill="#4c4c4c">Lithology</text>
<text transform="translate(384.4,37.3) rotate(-90)" font-size="5.8" textLength="11.2" lengthAdjust="spacingAndGlyphs" fill="#4c4c4c">LLD</text>
<text transform="translate(394.9,35.8) rotate(-90)" font-size="5.4" textLength="7.4" lengthAdjust="spacingAndGlyphs" fill="#4c4c4c">AC</text>
<text transform="translate(404.0,41.8) rotate(-90)" font-size="6.0" textLength="21.2" lengthAdjust="spacingAndGlyphs" fill="#4c4c4c">TOC(%)</text>
<text transform="translate(411.0,46.8) rotate(-90)" font-size="6.3" textLength="24.0" lengthAdjust="spacingAndGlyphs" fill="#4c4c4c">Sequence</text>
<text x="367.4" y="12" font-size="10.5" fill="#222" textLength="29.5" lengthAdjust="spacing">C34-6</text>
<line x1="472.7" y1="16.0" x2="472.7" y2="152.0" stroke="#6b6b6b" stroke-width="0.45" />
<line x1="478.5" y1="16.0" x2="478.5" y2="152.0" stroke="#6b6b6b" stroke-width="0.45" />
<line x1="488.5" y1="16.0" x2="488.5" y2="152.0" stroke="#6b6b6b" stroke-width="0.45" />
<line x1="494.0" y1="16.0" x2="494.0" y2="152.0" stroke="#6b6b6b" stroke-width="0.45" />
<line x1="499.8" y1="16.0" x2="499.8" y2="152.0" stroke="#6b6b6b" stroke-width="0.45" />
<line x1="507.7" y1="16.0" x2="507.7" y2="152.0" stroke="#6b6b6b" stroke-width="0.45" />
<line x1="515.0" y1="16.0" x2="515.0" y2="152.0" stroke="#6b6b6b" stroke-width="0.45" />
<line x1="523.4" y1="16.0" x2="523.4" y2="152.0" stroke="#6b6b6b" stroke-width="0.45" />
<line x1="533.3" y1="16.0" x2="533.3" y2="152.0" stroke="#6b6b6b" stroke-width="0.45" />
<line x1="540.4" y1="16.0" x2="540.4" y2="152.0" stroke="#6b6b6b" stroke-width="0.45" />
<text transform="translate(477.2,41.6) rotate(-90)" font-size="6.9" textLength="17.7" lengthAdjust="spacingAndGlyphs" fill="#4c4c4c">Group</text>
<text transform="translate(485.1,36.5) rotate(-90)" font-size="6.7" textLength="9.2" lengthAdjust="spacingAndGlyphs" fill="#4c4c4c">GR</text>
<text transform="translate(492.8,41.6) rotate(-90)" font-size="6.9" textLength="17.2" lengthAdjust="spacingAndGlyphs" fill="#4c4c4c">Depth</text>
<text transform="translate(498.5,46.4) rotate(-90)" font-size="6.9" textLength="27.8" lengthAdjust="spacingAndGlyphs" fill="#4c4c4c">Lithology</text>
<text transform="translate(505.3,37.3) rotate(-90)" font-size="6.1" textLength="11.9" lengthAdjust="spacingAndGlyphs" fill="#4c4c4c">LLD</text>
<text transform="translate(512.9,35.8) rotate(-90)" font-size="5.7" textLength="7.8" lengthAdjust="spacingAndGlyphs" fill="#4c4c4c">AC</text>
<text transform="translate(520.8,41.4) rotate(-90)" font-size="6.4" textLength="22.5" lengthAdjust="spacingAndGlyphs" fill="#4c4c4c">Clay(%)</text>
<text transform="translate(529.9,41.4) rotate(-90)" font-size="6.4" textLength="22.5" lengthAdjust="spacingAndGlyphs" fill="#4c4c4c">TOC(%)</text>
<text transform="translate(538.4,47.9) rotate(-90)" font-size="6.7" textLength="25.4" lengthAdjust="spacingAndGlyphs" fill="#4c4c4c">Sequence</text>
<text x="496.4" y="12" font-size="10.5" fill="#222" textLength="19.6" lengthAdjust="spacing">TY1</text>
<line x1="546.8" y1="16.0" x2="546.8" y2="152.0" stroke="#b0b0b0" stroke-width="0.50" />
<line x1="540.4" y1="48.0" x2="550.0" y2="48.0" stroke="#E8383A" stroke-width="0.85" />
<line x1="4.1" y1="15.8" x2="546.8" y2="15.8" stroke="#8a8a8a" stroke-width="0.50" />
<line x1="14.3" y1="45.5" x2="22.8" y2="45.5" stroke="#666" stroke-width="0.70" />
<line x1="14.8" y1="44.5" x2="22.3" y2="44.5" stroke="#555" stroke-width="0.90" stroke-dasharray="0.8,0.5"/>
<line x1="37.3" y1="45.0" x2="45.6" y2="45.0" stroke="#F06A6A" stroke-width="0.70" />
<line x1="39.6" y1="43.6" x2="43.3" y2="43.6" stroke="#777" stroke-width="0.70" stroke-dasharray="0.7,0.9"/>
<line x1="47.4" y1="44.6" x2="56.3" y2="44.6" stroke="#F4A464" stroke-width="0.70" />
<line x1="47.9" y1="43.4" x2="55.8" y2="43.4" stroke="#777" stroke-width="0.70" stroke-dasharray="0.8,0.5"/>
<line x1="58.1" y1="45.0" x2="67.0" y2="45.0" stroke="#8074E0" stroke-width="0.70" />
<line x1="58.4" y1="43.8" x2="58.4" y2="42.0" stroke="#4a4ab0" stroke-width="0.60" stroke-dasharray="0.6,0.6"/>
<line x1="138.9" y1="45.5" x2="148.1" y2="45.5" stroke="#666" stroke-width="0.70" />
<line x1="139.4" y1="44.5" x2="147.6" y2="44.5" stroke="#555" stroke-width="0.90" stroke-dasharray="0.8,0.5"/>
<line x1="162.4" y1="45.0" x2="171.1" y2="45.0" stroke="#F06A6A" stroke-width="0.70" />
<line x1="164.7" y1="43.6" x2="168.8" y2="43.6" stroke="#777" stroke-width="0.70" stroke-dasharray="0.7,0.9"/>
<line x1="172.9" y1="44.6" x2="181.6" y2="44.6" stroke="#F4A464" stroke-width="0.70" />
<line x1="173.4" y1="43.4" x2="181.1" y2="43.4" stroke="#777" stroke-width="0.70" stroke-dasharray="0.8,0.5"/>
<line x1="183.4" y1="45.0" x2="191.6" y2="45.0" stroke="#8074E0" stroke-width="0.70" />
<line x1="183.7" y1="43.8" x2="183.7" y2="42.0" stroke="#4a4ab0" stroke-width="0.60" stroke-dasharray="0.6,0.6"/>
<line x1="247.7" y1="45.5" x2="253.9" y2="45.5" stroke="#666" stroke-width="0.70" />
<line x1="248.2" y1="44.5" x2="253.4" y2="44.5" stroke="#555" stroke-width="0.90" stroke-dasharray="0.8,0.5"/>
<line x1="267.5" y1="45.0" x2="273.2" y2="45.0" stroke="#F06A6A" stroke-width="0.70" />
<line x1="269.8" y1="43.6" x2="270.9" y2="43.6" stroke="#777" stroke-width="0.70" stroke-dasharray="0.7,0.9"/>
<line x1="275.0" y1="44.6" x2="280.8" y2="44.6" stroke="#F4A464" stroke-width="0.70" />
<line x1="275.5" y1="43.4" x2="280.3" y2="43.4" stroke="#777" stroke-width="0.70" stroke-dasharray="0.8,0.5"/>
<line x1="282.6" y1="45.0" x2="288.6" y2="45.0" stroke="#8074E0" stroke-width="0.70" />
<line x1="282.9" y1="43.8" x2="282.9" y2="42.0" stroke="#4a4ab0" stroke-width="0.60" stroke-dasharray="0.6,0.6"/>
<line x1="290.4" y1="45.0" x2="296.0" y2="45.0" stroke="#6CB8F4" stroke-width="0.70" />
<line x1="290.7" y1="43.8" x2="290.7" y2="42.0" stroke="#4a4ab0" stroke-width="0.60" stroke-dasharray="0.6,0.6"/>
<line x1="356.3" y1="45.5" x2="365.5" y2="45.5" stroke="#666" stroke-width="0.70" />
<line x1="356.8" y1="44.5" x2="365.0" y2="44.5" stroke="#555" stroke-width="0.90" stroke-dasharray="0.8,0.5"/>
<line x1="378.5" y1="45.0" x2="387.3" y2="45.0" stroke="#F06A6A" stroke-width="0.70" />
<line x1="380.8" y1="43.6" x2="385.0" y2="43.6" stroke="#777" stroke-width="0.70" stroke-dasharray="0.7,0.9"/>
<line x1="389.1" y1="44.6" x2="397.8" y2="44.6" stroke="#F4A464" stroke-width="0.70" />
<line x1="389.6" y1="43.4" x2="397.3" y2="43.4" stroke="#777" stroke-width="0.70" stroke-dasharray="0.8,0.5"/>
<line x1="399.6" y1="45.0" x2="405.5" y2="45.0" stroke="#8074E0" stroke-width="0.70" />
<line x1="399.9" y1="43.8" x2="399.9" y2="42.0" stroke="#4a4ab0" stroke-width="0.60" stroke-dasharray="0.6,0.6"/>
<line x1="479.4" y1="45.5" x2="487.6" y2="45.5" stroke="#666" stroke-width="0.70" />
<line x1="479.9" y1="44.5" x2="487.1" y2="44.5" stroke="#555" stroke-width="0.90" stroke-dasharray="0.8,0.5"/>
<line x1="500.7" y1="45.0" x2="506.8" y2="45.0" stroke="#F06A6A" stroke-width="0.70" />
<line x1="503.0" y1="43.6" x2="504.5" y2="43.6" stroke="#777" stroke-width="0.70" stroke-dasharray="0.7,0.9"/>
<line x1="508.6" y1="44.6" x2="514.1" y2="44.6" stroke="#F4A464" stroke-width="0.70" />
<line x1="509.1" y1="43.4" x2="513.6" y2="43.4" stroke="#777" stroke-width="0.70" stroke-dasharray="0.8,0.5"/>
<line x1="515.9" y1="45.0" x2="522.5" y2="45.0" stroke="#6CB8F4" stroke-width="0.70" />
<line x1="516.2" y1="43.8" x2="516.2" y2="42.0" stroke="#4a4ab0" stroke-width="0.60" stroke-dasharray="0.6,0.6"/>
<line x1="524.3" y1="45.0" x2="532.4" y2="45.0" stroke="#8074E0" stroke-width="0.70" />
<line x1="524.6" y1="43.8" x2="524.6" y2="42.0" stroke="#4a4ab0" stroke-width="0.60" stroke-dasharray="0.6,0.6"/>
<polyline points="20.2,49.4 21.8,51.7 19.1,54.0 21.4,56.2 18.0,58.5 21.4,60.8 16.8,63.0 20.9,65.3 19.5,67.6 19.1,71.0 19.5,75.5 18.6,80.1 19.1,84.6 19.1,89.2 18.6,92.6 15.7,94.9 20.2,98.3 16.8,101.7 21.4,105.1 18.0,108.5 17.5,110.5 15.8,112.7 18.0,114.9 15.6,117.1 17.1,119.3 16.9,121.5 14.9,123.7 16.6,125.9 14.6,128.1 16.0,130.3 14.5,132.5 14.0,134.7 15.5,136.9 18.9,139.1 16.4,141.3 15.7,143.5 17.7,145.7 20.9,147.9 20.3,150.1 18.9,152.3 21.7,154.5 17.5,156.7 20.2,158.9 18.1,161.1 16.1,163.3 14.9,165.5 15.3,167.7 18.7,169.9" fill="none" stroke="#6A4FA8" stroke-width="0.45" />
<polyline points="39.5,49.4 40.7,52.8 38.4,56.2 39.1,59.6 46.4,61.9 39.5,64.2 38.4,67.6 39.1,73.3 38.4,80.1 39.1,86.9 38.4,92.6 41.8,94.9 38.4,97.1 44.1,100.5 39.1,102.8 43.0,107.4 38.0,109.5 39.2,111.5 40.1,113.5 39.2,115.5 39.7,117.5 37.4,119.5 37.0,121.5 37.0,123.5 38.7,125.5 38.7,127.5 38.2,129.5 39.3,131.5 39.2,133.5 38.4,135.5 40.4,137.5 41.1,139.5 39.1,141.5 39.7,143.5 39.8,145.5 41.6,147.5 41.9,149.5 39.8,151.5 42.2,153.5 39.1,155.5 38.9,157.5 40.5,159.5 38.4,161.5 38.9,163.5 37.0,165.5 39.0,167.5 40.6,169.5 40.5,171.5" fill="none" stroke="#F07080" stroke-width="0.45" />
<polyline points="52.2,49.0 50.9,50.5 51.6,52.0 51.6,53.5 51.5,55.0 51.0,56.5 52.2,58.0 53.3,59.5 52.1,61.0 52.1,62.5 49.8,64.0 51.0,65.5 51.5,67.0 53.1,68.5 53.3,70.0 51.3,71.5 50.6,73.0 51.4,74.5 49.3,76.0 49.8,77.5 49.0,79.0 48.3,80.5 47.7,82.0 50.1,83.5 49.0,85.0 48.8,86.5 49.3,88.0 51.4,89.5 49.5,91.0 49.9,92.5 50.5,94.0 52.1,95.5 52.7,97.0 53.3,98.5 51.3,100.0 50.7,101.5 50.2,103.0 51.9,104.5 53.2,106.0 50.8,107.5 49.5,109.0 49.1,110.5 48.8,112.0 49.6,113.5 50.5,115.0 49.7,116.5 48.3,118.0 49.1,119.5 49.3,121.0 50.2,122.5 52.2,124.0 52.3,125.5 51.7,127.0 51.7,128.5 52.0,130.0 49.7,131.5 51.7,133.0 52.4,134.5 53.1,136.0 53.2,137.5 51.7,139.0 50.9,140.5 49.3,142.0 50.5,143.5 48.9,145.0 48.1,146.5 48.2,148.0 48.1,149.5 48.7,151.0 47.9,152.5 47.3,154.0 47.5,155.5 47.4,157.0 48.4,158.5 47.7,160.0 50.5,161.5 51.1,163.0 49.6,164.5 49.2,166.0 49.3,167.5 49.4,169.0 48.6,170.5" fill="none" stroke="#C88070" stroke-width="0.40" />
<polyline points="142.3,49.0 143.5,50.5 142.3,52.0 141.7,53.5 140.0,55.0 139.1,56.5 139.4,58.0 139.3,59.5 141.3,61.0 140.0,62.5 138.8,64.0 141.4,65.5 141.4,67.0 140.0,68.5 140.6,70.0 139.2,71.5 140.1,73.0 142.2,74.5 143.0,76.0 142.8,77.5 141.2,79.0 140.7,80.5 139.7,82.0 141.3,83.5 141.3,85.0 142.2,86.5 141.1,88.0 140.1,89.5 141.6,91.0 143.1,92.5 143.4,94.0 143.5,95.5 143.5,97.0 143.3,98.5 141.3,100.0 141.3,101.5 140.7,103.0 139.2,104.5 138.6,106.0 138.8,107.5 139.0,109.0 140.6,110.5 142.4,112.0 141.6,113.5 142.9,115.0 143.8,116.5 144.2,118.0 142.3,119.5 140.8,121.0 139.9,122.5 139.4,124.0 139.1,125.5 140.4,127.0 142.1,128.5 142.9,130.0 142.0,131.5 142.1,133.0 142.7,134.5 140.5,136.0 141.3,137.5 142.7,139.0 142.9,140.5 143.0,142.0 142.1,143.5 140.5,145.0" fill="none" stroke="#4060E0" stroke-width="0.45" />
<polyline points="165.9,49.0 164.6,50.5 165.9,52.0 167.3,53.5 165.7,55.0 164.8,56.5 166.6,58.0 166.7,59.5 164.4,61.0 162.9,62.5 162.2,64.0 165.0,65.5 166.1,67.0 164.0,68.5 165.7,70.0 167.2,71.5 166.7,73.0 165.2,74.5 165.1,76.0 163.4,77.5 162.1,79.0 165.1,80.5 165.5,82.0 165.2,83.5 166.8,85.0 165.6,86.5 166.7,88.0 167.2,89.5 164.8,91.0 163.7,92.5 163.3,94.0 162.8,95.5 164.0,97.0 163.3,98.5 163.6,100.0 162.5,101.5 165.2,103.0 164.3,104.5 164.3,106.0 164.8,107.5 166.4,109.0 165.3,110.5 166.8,112.0 165.8,113.5 165.4,115.0 165.2,116.5 162.9,118.0 163.4,119.5 162.7,121.0 162.1,122.5 164.2,124.0 163.0,125.5 163.6,127.0 165.0,128.5 165.1,130.0 164.2,131.5 164.5,133.0 164.8,134.5 165.9,136.0 163.7,137.5 164.4,139.0 163.4,140.5 163.0,142.0 164.9,143.5 164.8,145.0" fill="none" stroke="#E06080" stroke-width="0.45" />
<polyline points="176.4,49.0 177.1,50.5 178.0,52.0 177.0,53.5 177.0,55.0 176.7,56.5 176.5,58.0 177.0,59.5 176.5,61.0 176.5,62.5 176.3,64.0 177.6,65.5 177.6,67.0 178.2,68.5 178.7,70.0 176.8,71.5 176.7,73.0 177.9,74.5 178.2,76.0 176.2,77.5 175.0,79.0 175.3,80.5 174.4,82.0 174.4,83.5 173.9,85.0 175.4,86.5 176.7,88.0 177.7,89.5 175.9,91.0 176.7,92.5 177.0,94.0 175.5,95.5 177.0,97.0 178.1,98.5 176.4,100.0 177.7,101.5 176.7,103.0 176.4,104.5 177.9,106.0 178.2,107.5 176.2,109.0 176.0,110.5 176.1,112.0 175.7,113.5 174.9,115.0 174.9,116.5 176.2,118.0 174.7,119.5 175.5,121.0 175.6,122.5 174.4,124.0 174.7,125.5 175.7,127.0 176.0,128.5 174.7,130.0 176.9,131.5 177.5,133.0 178.4,134.5 176.2,136.0 175.4,137.5 174.3,139.0 176.1,140.5 175.4,142.0 174.6,143.5 175.1,145.0" fill="none" stroke="#D09080" stroke-width="0.40" />
<polyline points="251.3,49.0 251.7,50.5 250.2,52.0 249.0,53.5 250.8,55.0 250.7,56.5 251.0,58.0 249.2,59.5 248.2,61.0 249.6,62.5 249.5,64.0 248.4,65.5 250.5,67.0 250.7,68.5 251.4,70.0 249.4,71.5 250.8,73.0 249.1,74.5 250.6,76.0 250.2,77.5 249.6,79.0 249.9,80.5 251.3,82.0 250.0,83.5 248.8,85.0 249.4,86.5 248.9,88.0 248.1,89.5 247.9,91.0 247.4,92.5 247.6,94.0 248.1,95.5 248.3,97.0 249.9,98.5 249.3,100.0 249.6,101.5 248.8,103.0 248.8,104.5 247.8,106.0 248.0,107.5 247.4,109.0 249.3,110.5 249.8,112.0 248.9,113.5 249.3,115.0 251.0,116.5 249.3,118.0 250.6,119.5 250.1,121.0 250.1,122.5 251.1,124.0 250.3,125.5 250.2,127.0 250.7,128.5 251.9,130.0 250.6,131.5 251.4,133.0 251.4,134.5 251.2,136.0 250.4,137.5" fill="none" stroke="#4060E0" stroke-width="0.40" />
<polyline points="269.1,49.0 268.0,50.5 267.6,52.0 267.2,53.5 269.0,55.0 268.5,56.5 268.0,58.0 267.5,59.5 269.5,61.0 270.6,62.5 270.7,64.0 269.5,65.5 268.8,67.0 268.5,68.5 268.9,70.0 268.2,71.5 268.7,73.0 268.4,74.5 270.3,76.0 271.4,77.5 270.7,79.0 269.5,80.5 270.9,82.0 269.8,83.5 269.3,85.0 267.9,86.5 268.3,88.0 268.8,89.5 269.2,91.0 268.5,92.5 269.0,94.0 267.8,95.5 267.9,97.0 267.4,98.5 268.1,100.0 267.4,101.5 267.2,103.0 267.6,104.5 267.7,106.0 268.8,107.5 269.2,109.0 270.2,110.5 270.4,112.0 270.7,113.5 271.3,115.0 270.2,116.5 269.4,118.0 271.0,119.5 269.3,121.0 270.1,122.5 270.3,124.0 268.6,125.5 270.1,127.0 271.0,128.5 270.8,130.0 270.9,131.5 271.3,133.0 269.4,134.5 269.6,136.0 269.6,137.5" fill="none" stroke="#3060D0" stroke-width="0.40" />
<polyline points="278.2,49.0 278.6,50.5 278.9,52.0 278.4,53.5 279.0,55.0 278.7,56.5 278.6,58.0 277.1,59.5 275.7,61.0 275.2,62.5 275.7,64.0 275.1,65.5 277.1,67.0 277.3,68.5 277.6,70.0 277.8,71.5 278.0,73.0 277.6,74.5 275.9,76.0 277.4,77.5 278.0,79.0 277.6,80.5 277.5,82.0 277.8,83.5 276.2,85.0 277.3,86.5 276.5,88.0 275.5,89.5 275.5,91.0 276.9,92.5 276.1,94.0 277.3,95.5 278.7,97.0 278.0,98.5 277.2,100.0 277.1,101.5 277.7,103.0 278.3,104.5 278.1,106.0 278.1,107.5 276.4,109.0 275.7,110.5 275.6,112.0 277.0,113.5 276.5,115.0 277.0,116.5 275.6,118.0 274.9,119.5 275.2,121.0 276.6,122.5 277.4,124.0 277.8,125.5 276.9,127.0 277.1,128.5 277.0,130.0 277.0,131.5 275.9,133.0 277.6,134.5 276.5,136.0 278.2,137.5" fill="none" stroke="#E05060" stroke-width="0.45" />
<polyline points="360.7,49.0 358.4,50.5 358.7,52.0 360.0,53.5 361.2,55.0 360.2,56.5 359.0,58.0 358.1,59.5 360.1,61.0 358.8,62.5 359.3,64.0 358.1,65.5 358.7,67.0 360.4,68.5 358.7,70.0 360.0,71.5 359.7,73.0 360.8,74.5 360.8,76.0 359.2,77.5 360.5,79.0 359.9,80.5 358.0,82.0 356.9,83.5 358.0,85.0 358.4,86.5 358.1,88.0 357.4,89.5 357.7,91.0 357.8,92.5 359.6,94.0 357.8,95.5 359.3,97.0 360.4,98.5 358.6,100.0 360.3,101.5 360.5,103.0 361.3,104.5 359.7,106.0 359.1,107.5 358.8,109.0 360.6,110.5 360.3,112.0 359.4,113.5 359.1,115.0 358.4,116.5 357.3,118.0 356.9,119.5 359.0,121.0 358.4,122.5 360.2,124.0 359.0,125.5 358.3,127.0 358.8,128.5 358.0,130.0 358.1,131.5 360.1,133.0 361.0,134.5 361.2,136.0 360.8,137.5" fill="none" stroke="#3050D0" stroke-width="0.45" />
<polyline points="382.4,49.0 383.0,50.5 382.4,52.0 382.5,53.5 380.8,55.0 381.6,56.5 381.4,58.0 382.0,59.5 382.0,61.0 381.2,62.5 380.1,64.0 381.7,65.5 380.6,67.0 380.8,68.5 380.7,70.0 380.4,71.5 381.4,73.0 382.6,74.5 381.4,76.0 381.8,77.5 381.1,79.0 381.3,80.5 381.0,82.0 380.3,83.5 379.9,85.0 379.8,86.5 381.5,88.0 381.4,89.5 380.7,91.0 382.0,92.5 382.9,94.0 382.1,95.5 380.8,97.0 380.3,98.5 379.7,100.0 380.0,101.5 379.6,103.0 379.7,104.5 379.8,106.0 380.7,107.5 381.9,109.0 382.3,110.5 381.6,112.0 381.3,113.5 381.3,115.0 381.0,116.5 380.7,118.0 379.9,119.5 380.0,121.0 381.8,122.5 380.6,124.0 380.9,125.5 381.4,127.0 382.3,128.5 381.1,130.0 380.6,131.5 380.3,133.0 380.5,134.5 380.7,136.0 382.1,137.5" fill="none" stroke="#3050D0" stroke-width="0.45" />
<polyline points="393.3,49.0 393.8,50.5 392.0,52.0 391.0,53.5 392.2,55.0 393.3,56.5 392.8,58.0 392.8,59.5 391.4,61.0 391.6,62.5 393.0,64.0 393.6,65.5 393.9,67.0 394.4,68.5 392.9,70.0 391.7,71.5 391.1,73.0 391.8,74.5 392.5,76.0 393.6,77.5 393.6,79.0 393.4,80.5 393.6,82.0 393.0,83.5 392.8,85.0 391.5,86.5 392.6,88.0 391.8,89.5 393.2,91.0 393.2,92.5 392.3,94.0 391.4,95.5 391.2,97.0 392.1,98.5 392.7,100.0 391.6,101.5 390.9,103.0 391.6,104.5 392.2,106.0 392.0,107.5 391.5,109.0 392.2,110.5 391.0,112.0 391.1,113.5 391.6,115.0 393.1,116.5 393.2,118.0 393.8,119.5 393.1,121.0 392.1,122.5 391.6,124.0 393.1,125.5 393.3,127.0 392.4,128.5 391.2,130.0 391.7,131.5 392.5,133.0 392.2,134.5 391.7,136.0 392.4,137.5" fill="none" stroke="#5040C0" stroke-width="0.45" />
<polyline points="401.7,49.0 400.9,50.5 400.3,52.0 400.3,53.5 400.5,55.0 401.0,56.5 400.6,58.0 401.2,59.5 401.5,61.0 401.3,62.5 400.7,64.0 401.6,65.5 401.0,67.0 401.5,68.5 400.9,70.0 400.5,71.5 401.1,73.0 400.8,74.5 401.6,76.0 401.3,77.5 400.7,79.0 400.4,80.5 400.6,82.0 401.0,83.5 401.7,85.0 400.8,86.5 400.8,88.0 400.4,89.5 401.4,91.0 400.7,92.5 400.1,94.0 399.9,95.5 400.2,97.0 401.2,98.5 401.7,100.0 401.7,101.5 402.2,103.0 402.3,104.5 401.5,106.0 400.8,107.5 401.6,109.0 401.7,110.5 400.7,112.0 401.1,113.5 400.9,115.0 400.7,116.5 400.6,118.0 400.3,119.5 399.8,121.0 400.0,122.5 400.2,124.0 401.3,125.5 400.6,127.0 401.5,128.5 400.8,130.0 400.7,131.5 401.3,133.0 401.7,134.5 401.3,136.0 400.5,137.5" fill="none" stroke="#3050D0" stroke-width="0.40" />
<polyline points="481.4,49.0 481.1,50.5 482.5,52.0 481.1,53.5 480.9,55.0 482.4,56.5 480.6,58.0 480.7,59.5 482.0,61.0 482.6,62.5 480.7,64.0 479.7,65.5 479.2,67.0 481.5,68.5 480.8,70.0 481.8,71.5 482.9,73.0 481.8,74.5 481.0,76.0 482.6,77.5 482.4,79.0 481.3,80.5 482.0,82.0 481.2,83.5 480.7,85.0 479.6,86.5 481.2,88.0 482.6,89.5 482.5,91.0 483.4,92.5 481.1,94.0 480.5,95.5 480.9,97.0 482.5,98.5 483.4,100.0 482.2,101.5 481.1,103.0 481.1,104.5 481.3,106.0 482.7,107.5 481.2,109.0 482.2,110.5 482.6,112.0 483.1,113.5 483.2,115.0 482.8,116.5 481.7,118.0 481.1,119.5 480.8,121.0 482.0,122.5 480.5,124.0 480.0,125.5 481.5,127.0 480.7,128.5 479.8,130.0 479.1,131.5 480.4,133.0 480.4,134.5 482.3,136.0 483.1,137.5 483.8,139.0 482.1,140.5 480.6,142.0 479.8,143.5 480.5,145.0 481.6,146.5 481.4,148.0 480.6,149.5 480.8,151.0" fill="none" stroke="#2040C0" stroke-width="0.40" />
<polyline points="503.2,49.0 503.4,50.5 503.7,52.0 504.0,53.5 503.9,55.0 502.7,56.5 503.5,58.0 502.9,59.5 503.0,61.0 502.8,62.5 503.3,64.0 502.6,65.5 502.3,67.0 502.1,68.5 501.8,70.0 503.1,71.5 503.2,73.0 502.7,74.5 502.6,76.0 503.7,77.5 503.4,79.0 502.7,80.5 503.4,82.0 503.5,83.5 504.2,85.0 502.9,86.5 502.9,88.0 503.5,89.5 503.9,91.0 504.3,92.5 502.8,94.0 502.5,95.5 502.0,97.0 501.8,98.5 503.2,100.0 503.3,101.5 503.9,103.0 503.3,104.5 503.8,106.0 503.3,107.5 502.7,109.0 503.4,110.5 504.0,112.0 502.8,113.5 503.1,115.0 503.2,116.5 502.6,118.0 502.5,119.5 502.0,121.0 501.9,122.5 501.9,124.0 502.6,125.5 503.0,127.0 502.4,128.5 501.7,130.0 502.0,131.5 502.8,133.0 502.2,134.5 502.2,136.0 502.0,137.5 503.0,139.0 503.1,140.5 502.2,142.0 501.8,143.5 502.1,145.0 502.6,146.5 503.0,148.0 502.2,149.5 501.9,151.0" fill="none" stroke="#3040C0" stroke-width="0.40" />
<polyline points="511.0,49.0 510.7,50.5 510.3,52.0 510.1,53.5 511.1,55.0 510.6,56.5 510.7,58.0 510.4,59.5 510.4,61.0 511.1,62.5 511.8,64.0 511.0,65.5 510.3,67.0 510.8,68.5 510.2,70.0 509.5,71.5 510.7,73.0 510.5,74.5 511.1,76.0 510.7,77.5 511.4,79.0 511.0,80.5 510.2,82.0 509.5,83.5 510.1,85.0 510.6,86.5 511.3,88.0 510.3,89.5 510.7,91.0 510.4,92.5 510.5,94.0 509.9,95.5 509.9,97.0 510.2,98.5 511.2,100.0 510.2,101.5 510.4,103.0 511.0,104.5 511.7,106.0 510.7,107.5 510.0,109.0 511.0,110.5 511.7,112.0 511.2,113.5 510.1,115.0 511.1,116.5 510.7,118.0 511.4,119.5 511.2,121.0 511.5,122.5 510.5,124.0 511.1,125.5 510.4,127.0 510.3,128.5 511.1,130.0 511.4,131.5 510.5,133.0 510.1,134.5 510.1,136.0 510.4,137.5 510.3,139.0 509.8,140.5 509.7,142.0 510.5,143.5 511.3,145.0 510.2,146.5 510.5,148.0 511.0,149.5 510.0,151.0" fill="none" stroke="#A04060" stroke-width="0.40" />
<polygon points="57.7,48.0 59.6,48.0 59.2,49.3 59.4,50.6 59.5,51.9 59.6,53.2 59.4,54.5 59.3,55.8 59.5,57.1 59.4,58.4 59.6,59.7 59.5,61.0 59.4,62.3 59.0,63.6 59.3,64.9 59.4,66.2 59.2,67.5 59.5,68.8 59.8,70.1 59.6,71.4 59.3,72.7 59.3,74.0 59.0,75.3 58.8,76.6 59.0,77.9 58.8,79.2 59.0,80.5 59.2,81.8 58.9,83.1 59.2,84.4 58.9,85.7 59.4,87.0 59.7,88.3 59.6,89.6 59.1,90.9 59.3,92.2 59.2,93.5 59.8,94.8 59.3,96.1 59.7,97.4 60.1,98.7 60.0,100.0 60.1,101.3 59.6,102.6 60.0,103.9 59.8,105.2 60.1,106.5 60.2,107.8 59.6,109.1 59.8,110.4 60.1,111.7 59.4,113.0 59.3,114.3 59.6,115.6 59.2,116.9 59.7,118.2 59.4,119.5 59.7,120.8 59.3,122.1 59.4,123.4 59.8,124.7 59.4,126.0 59.2,127.3 59.3,128.6 59.2,129.9 58.9,131.2 58.8,132.5 58.8,133.8 59.5,135.1 59.6,136.4 59.9,137.7 59.4,139.0 59.7,140.3 59.3,141.6 59.4,142.9 59.5,144.2 59.4,145.5 59.8,146.8 59.7,148.1 59.7,149.4 60.0,150.7 59.4,152.0 59.9,153.3 59.8,154.6 59.6,155.9 59.8,157.2 59.5,158.5 59.9,159.8 59.8,161.1 59.5,162.4 59.8,163.7 59.6,165.0 59.2,166.3 59.6,167.6 59.1,168.9 59.5,170.2 59.3,171.5 57.7,172.5" fill="#22228C" />
<polygon points="57.7,50.5 60.2,53.2 60.0,54.8 57.7,57.5" fill="#22228C" />
<polygon points="57.7,69.5 60.7,72.2 60.4,73.8 57.7,76.5" fill="#22228C" />
<polygon points="57.7,75.5 60.5,78.2 60.2,79.8 57.7,82.5" fill="#22228C" />
<polygon points="57.7,113.5 61.4,116.2 61.0,117.8 57.7,120.5" fill="#22228C" />
<polygon points="57.7,127.5 61.6,130.2 61.1,131.8 57.7,134.5" fill="#22228C" />
<polygon points="57.7,147.5 60.2,150.2 60.0,151.8 57.7,154.5" fill="#22228C" />
<polygon points="182.5,48.0 188.9,48.0 189.1,49.0 189.5,50.0 188.9,51.0 188.8,52.0 188.3,53.0 187.4,54.0 187.5,55.0 187.4,56.0 187.3,57.0 186.3,58.0 186.2,59.0 185.7,60.0 186.0,61.0 185.5,62.0 185.0,63.0 186.2,64.0 189.8,65.0 190.3,66.0 191.0,67.0 191.0,68.0 191.2,69.0 191.8,70.0 191.5,71.0 191.0,72.0 190.4,73.0 189.4,74.0 189.1,75.0 188.7,76.0 188.8,77.0 188.7,78.0 189.0,79.0 188.5,80.0 188.3,81.0 187.1,81.8 185.9,82.5 187.2,83.2 187.8,84.0 188.9,85.0 190.1,86.0 190.0,87.0 190.2,88.0 190.6,89.0 190.7,90.0 191.6,91.0 191.4,92.0 192.0,93.0 191.7,94.0 191.9,95.0 191.4,96.0 190.5,96.8 190.5,97.7 191.1,98.5 185.1,99.5 185.9,100.2 185.6,101.0 185.5,102.0 186.2,103.0 187.5,104.0 188.1,105.0 188.1,106.0 188.5,107.0 188.2,107.8 187.0,108.5 186.1,109.3 185.9,110.2 185.5,111.0 185.2,112.0 185.6,113.0 185.4,114.0 186.2,115.0 185.8,116.0 185.4,117.0 185.5,118.0 184.5,119.0 185.1,119.8 184.6,120.5 185.0,121.2 184.8,122.0 184.8,122.8 185.4,123.5 185.1,124.2 184.5,125.0 185.3,125.8 184.8,126.5 185.2,127.2 185.9,128.0 185.5,128.8 184.9,129.5 185.7,130.2 184.8,131.0 185.3,131.8 186.3,132.7 186.3,133.5 186.7,134.3 186.9,135.2 187.3,136.0 188.8,136.8 189.4,137.5 189.7,138.3 189.4,139.2 189.5,140.0 188.3,140.8 186.1,141.5 186.0,142.3 186.2,143.2 185.4,144.0 185.3,145.0 185.5,146.0 182.5,146.0" fill="#242488" />
<rect x="165.6" y="101.2" width="4.8" height="2.6" fill="#FFF4F0" stroke="#F07070" stroke-width="0.4"/>
<line x1="30.7" y1="48.0" x2="30.7" y2="172.5" stroke="#445058" stroke-width="1.40" />
<rect x="31.2" y="49.0" width="4.6" height="3.0" fill="#9aa4a8" />
<rect x="31.2" y="57.0" width="4.6" height="3.0" fill="#9aa4a8" />
<rect x="31.2" y="63.0" width="4.6" height="4.0" fill="#9aa4a8" />
<rect x="31.2" y="95.0" width="4.6" height="13.0" fill="#70787c" />
<rect x="31.2" y="122.0" width="4.6" height="4.0" fill="#8a9296" />
<rect x="31.2" y="136.0" width="4.6" height="20.0" fill="#5a6266" />
<line x1="31.2" y1="96.0" x2="35.8" y2="96.0" stroke="#444" stroke-width="0.50" />
<line x1="31.2" y1="98.0" x2="35.8" y2="98.0" stroke="#444" stroke-width="0.50" />
<line x1="31.2" y1="100.0" x2="35.8" y2="100.0" stroke="#444" stroke-width="0.50" />
<line x1="31.2" y1="102.0" x2="35.8" y2="102.0" stroke="#444" stroke-width="0.50" />
<line x1="31.2" y1="104.0" x2="35.8" y2="104.0" stroke="#444" stroke-width="0.50" />
<line x1="31.2" y1="106.0" x2="35.8" y2="106.0" stroke="#444" stroke-width="0.50" />
<line x1="31.2" y1="137.0" x2="35.8" y2="137.0" stroke="#444" stroke-width="0.60" />
<line x1="31.2" y1="140.0" x2="35.8" y2="140.0" stroke="#444" stroke-width="0.60" />
<line x1="31.2" y1="143.0" x2="35.8" y2="143.0" stroke="#444" stroke-width="0.60" />
<line x1="31.2" y1="146.0" x2="35.8" y2="146.0" stroke="#444" stroke-width="0.60" />
<line x1="31.2" y1="149.0" x2="35.8" y2="149.0" stroke="#444" stroke-width="0.60" />
<line x1="31.2" y1="152.0" x2="35.8" y2="152.0" stroke="#444" stroke-width="0.60" />
<line x1="31.2" y1="155.0" x2="35.8" y2="155.0" stroke="#444" stroke-width="0.60" />
<line x1="71.3" y1="48.0" x2="71.3" y2="172.5" stroke="#8a9298" stroke-width="1.50" />
<rect x="60.2" y="95.2" width="6.6" height="2.8" fill="none" stroke="#777" stroke-width="0.4"/>
<line x1="155.9" y1="48.0" x2="155.9" y2="146.0" stroke="#78848a" stroke-width="1.30" />
<rect x="154.9" y="50.0" width="3.2" height="2.0" fill="#98a2a6" />
<rect x="154.9" y="55.5" width="3.2" height="7.0" fill="#98a2a6" />
<rect x="154.9" y="83.8" width="3.2" height="5.2" fill="#98a2a6" />
<rect x="154.9" y="100.0" width="3.2" height="5.0" fill="#98a2a6" />
<rect x="154.9" y="111.0" width="3.2" height="2.5" fill="#98a2a6" />
<rect x="154.9" y="130.5" width="3.2" height="6.0" fill="#98a2a6" />
<rect x="154.9" y="140.0" width="3.2" height="2.5" fill="#98a2a6" />
<line x1="195.9" y1="48.0" x2="195.9" y2="146.0" stroke="#98a0a4" stroke-width="1.60" />
<line x1="257.4" y1="48.0" x2="257.4" y2="139.3" stroke="#2a2a2a" stroke-width="1.60" />
<line x1="258.0" y1="55.0" x2="265.5" y2="55.0" stroke="#333" stroke-width="0.70" />
<line x1="258.0" y1="60.5" x2="265.5" y2="60.5" stroke="#333" stroke-width="0.70" />
<line x1="258.0" y1="66.0" x2="265.5" y2="66.0" stroke="#333" stroke-width="0.70" />
<line x1="258.0" y1="71.0" x2="265.5" y2="71.0" stroke="#333" stroke-width="0.70" />
<line x1="258.0" y1="77.0" x2="265.5" y2="77.0" stroke="#333" stroke-width="0.70" />
<line x1="258.0" y1="88.0" x2="265.5" y2="88.0" stroke="#333" stroke-width="0.70" />
<line x1="258.0" y1="93.0" x2="265.5" y2="93.0" stroke="#333" stroke-width="0.70" />
<line x1="258.0" y1="97.0" x2="265.5" y2="97.0" stroke="#333" stroke-width="0.70" />
<line x1="258.0" y1="101.0" x2="265.5" y2="101.0" stroke="#333" stroke-width="0.70" />
<line x1="258.0" y1="110.0" x2="265.5" y2="110.0" stroke="#333" stroke-width="0.70" />
<line x1="258.0" y1="113.0" x2="265.5" y2="113.0" stroke="#333" stroke-width="0.70" />
<line x1="258.0" y1="124.5" x2="265.5" y2="124.5" stroke="#333" stroke-width="0.70" />
<line x1="258.0" y1="131.5" x2="265.5" y2="131.5" stroke="#333" stroke-width="0.70" />
<line x1="258.0" y1="136.0" x2="265.5" y2="136.0" stroke="#333" stroke-width="0.70" />
<line x1="299.4" y1="48.0" x2="299.4" y2="139.3" stroke="#c8a8b0" stroke-width="1.20" />
<line x1="371.7" y1="48.0" x2="371.7" y2="139.4" stroke="#2a2a2a" stroke-width="1.10" />
<line x1="408.3" y1="48.0" x2="408.3" y2="139.4" stroke="#a09098" stroke-width="1.00" />
<line x1="381.0" y1="48.0" x2="381.0" y2="139.4" stroke="#2a6ab0" stroke-width="0.35" />
<line x1="392.0" y1="48.0" x2="392.0" y2="139.4" stroke="#2a6ab0" stroke-width="0.35" />
<line x1="402.0" y1="48.0" x2="402.0" y2="139.4" stroke="#2a6ab0" stroke-width="0.35" />
<line x1="492.9" y1="48.0" x2="492.9" y2="152.0" stroke="#2a2a2a" stroke-width="1.60" />
<line x1="493.0" y1="68.0" x2="499.5" y2="68.0" stroke="#1c2430" stroke-width="0.70" />
<line x1="493.0" y1="77.0" x2="499.5" y2="77.0" stroke="#1c2430" stroke-width="0.70" />
<line x1="493.0" y1="112.0" x2="499.5" y2="112.0" stroke="#1c2430" stroke-width="0.70" />
<line x1="493.0" y1="117.5" x2="499.5" y2="117.5" stroke="#1c2430" stroke-width="0.70" />
<line x1="493.0" y1="129.5" x2="499.5" y2="129.5" stroke="#1c2430" stroke-width="0.70" />
<line x1="493.0" y1="132.0" x2="499.5" y2="132.0" stroke="#1c2430" stroke-width="0.70" />
<line x1="537.2" y1="48.0" x2="537.2" y2="152.0" stroke="#8a9298" stroke-width="1.20" />
<line x1="525.0" y1="58.0" x2="531.5" y2="58.0" stroke="#1530A8" stroke-width="0.50" />
<line x1="525.0" y1="61.0" x2="531.5" y2="61.0" stroke="#1530A8" stroke-width="0.50" />
<line x1="525.0" y1="70.0" x2="531.5" y2="70.0" stroke="#1530A8" stroke-width="0.50" />
<line x1="525.0" y1="79.0" x2="531.5" y2="79.0" stroke="#1530A8" stroke-width="0.50" />
<line x1="525.0" y1="82.0" x2="531.5" y2="82.0" stroke="#1530A8" stroke-width="0.50" />
<line x1="525.0" y1="85.0" x2="531.5" y2="85.0" stroke="#1530A8" stroke-width="0.50" />
<line x1="525.0" y1="88.0" x2="531.5" y2="88.0" stroke="#1530A8" stroke-width="0.50" />
<line x1="525.0" y1="94.0" x2="531.5" y2="94.0" stroke="#1530A8" stroke-width="0.50" />
<line x1="525.0" y1="100.0" x2="531.5" y2="100.0" stroke="#1530A8" stroke-width="0.50" />
<line x1="525.0" y1="106.0" x2="531.5" y2="106.0" stroke="#1530A8" stroke-width="0.50" />
<line x1="525.0" y1="109.0" x2="531.5" y2="109.0" stroke="#1530A8" stroke-width="0.50" />
<line x1="525.0" y1="112.0" x2="531.5" y2="112.0" stroke="#1530A8" stroke-width="0.50" />
<line x1="525.0" y1="118.0" x2="531.5" y2="118.0" stroke="#1530A8" stroke-width="0.50" />
<line x1="525.0" y1="121.0" x2="531.5" y2="121.0" stroke="#1530A8" stroke-width="0.50" />
<line x1="525.0" y1="124.0" x2="531.5" y2="124.0" stroke="#1530A8" stroke-width="0.50" />
<line x1="525.0" y1="130.0" x2="531.5" y2="130.0" stroke="#1530A8" stroke-width="0.50" />
<line x1="525.0" y1="133.0" x2="531.5" y2="133.0" stroke="#1530A8" stroke-width="0.50" />
<line x1="525.0" y1="139.0" x2="531.5" y2="139.0" stroke="#1530A8" stroke-width="0.50" />
<line x1="525.0" y1="142.0" x2="531.5" y2="142.0" stroke="#1530A8" stroke-width="0.50" />
<line x1="525.0" y1="145.0" x2="531.5" y2="145.0" stroke="#1530A8" stroke-width="0.50" />
<line x1="525.0" y1="148.0" x2="531.5" y2="148.0" stroke="#1530A8" stroke-width="0.50" />
<text x="541.8" y="94.2" font-size="3.6" fill="#444">3M</text>
<rect x="9.4" y="182.0" width="22.4" height="12.4" fill="#FFC30A" stroke="#4a4a4a" stroke-width="0.7"/>
<text x="35.9" y="193.1" font-size="7.5" font-weight="bold" fill="#2a2a2a" textLength="49.2" lengthAdjust="spacingAndGlyphs">Fine sandstone</text>
<rect x="9.4" y="205.5" width="22.4" height="12.4" fill="#A9E2CC" stroke="#4a4a4a" stroke-width="0.7"/>
<text x="35.9" y="214.9" font-size="7.5" font-weight="bold" fill="#2a2a2a" textLength="154.4" lengthAdjust="spacingAndGlyphs">Medium to low organic silty laminated felsic shale</text>
<rect x="9.4" y="229.3" width="22.4" height="12.4" fill="#0A72C8" stroke="#4a4a4a" stroke-width="0.7"/>
<text x="35.0" y="239.3" font-size="7.5" font-weight="bold" fill="#2a2a2a" textLength="162.3" lengthAdjust="spacingAndGlyphs">Organic-rich argillaceous laminated clayey shale</text>
<rect x="9.4" y="253.0" width="22.4" height="12.4" fill="#FFFFFF" stroke="#4a4a4a" stroke-width="0.7"/>
<text x="38.2" y="263.3" font-size="7.5" font-weight="bold" fill="#2a2a2a" textLength="14.2" lengthAdjust="spacingAndGlyphs">Well</text>
<text x="15.6" y="262.4" font-size="8" textLength="14.4" lengthAdjust="spacingAndGlyphs" fill="#707070">TY1</text>
<circle cx="13.4" cy="259" r="0.9" fill="none" stroke="#707070" stroke-width="0.5"/>
<rect x="203.5" y="182.0" width="22.4" height="12.4" fill="#FFF9C6" stroke="#4a4a4a" stroke-width="0.7"/>
<text x="231.2" y="191.9" font-size="7.5" font-weight="bold" fill="#2a2a2a" textLength="28.4" lengthAdjust="spacingAndGlyphs">Siltstone</text>
<rect x="203.5" y="206.0" width="22.4" height="12.4" fill="#30C2F2" stroke="#4a4a4a" stroke-width="0.7"/>
<text x="231.8" y="214.9" font-size="7.5" font-weight="bold" fill="#2a2a2a" textLength="193.7" lengthAdjust="spacingAndGlyphs">Medium to high organic argillaceous laminated felsic shale</text>
<rect x="203.5" y="229.6" width="22.4" height="12.4" fill="#6F8891" stroke="#4a4a4a" stroke-width="0.7"/>
<text x="231.8" y="239.6" font-size="7.5" font-weight="bold" fill="#2a2a2a" textLength="138.3" lengthAdjust="spacingAndGlyphs">Medium to low organic massive mudstone</text>
<rect x="203.5" y="253.0" width="22.4" height="12.4" fill="#FFFFFF" stroke="#4a4a4a" stroke-width="0.7"/>
<text x="232.6" y="263.4" font-size="7.5" font-weight="bold" fill="#2a2a2a" textLength="37.1" lengthAdjust="spacingAndGlyphs">Profile line</text>
<line x1="208.4" y1="261.6" x2="221.0" y2="257.4" stroke="#F0303A" stroke-width="0.80" />
<polyline points="203.6,172.0 203.6,175.6 253.4,175.6 253.4,172.0" fill="none" stroke="#333" stroke-width="0.60" />
<line x1="228.4" y1="172.6" x2="228.4" y2="175.6" stroke="#333" stroke-width="0.60" />
<text x="202.0" y="171.6" font-size="6.6" textLength="3.2" lengthAdjust="spacingAndGlyphs" fill="#333">0</text>
<text x="224.0" y="171.6" font-size="6.6" textLength="9.0" lengthAdjust="spacingAndGlyphs" fill="#333">2.5</text>
<text x="248.0" y="171.6" font-size="6.6" textLength="12.0" lengthAdjust="spacingAndGlyphs" fill="#333">5km</text>
<defs><clipPath id="mapclip"><rect x="451.0" y="161.0" width="92.5" height="115.0"/></clipPath></defs>
<g clip-path="url(#mapclip)">
<rect x="451.0" y="161.0" width="92.5" height="115.0" fill="#FFF9C6" />
<path d="M440.0,150.0 C444.9,138.3 461.3,148.1 465.6,150.0 C469.9,151.9 465.5,158.5 465.6,161.3 C465.7,164.1 466.4,164.8 466.0,166.8 C465.6,168.8 464.4,171.2 463.4,173.4 C462.4,175.6 460.8,177.8 460.1,180.0 C459.5,182.2 459.3,184.4 459.5,186.6 C459.7,188.8 460.3,191.4 461.2,193.3 C462.1,195.2 463.7,196.5 464.6,198.0 C465.5,199.5 466.6,200.9 466.5,202.5 C466.4,204.1 465.5,206.1 464.0,207.6 C462.5,209.1 459.3,210.2 457.4,211.4 C455.5,212.6 453.6,213.2 452.6,214.6 C451.6,216.0 451.8,217.4 451.6,220.0 C451.4,222.6 451.5,226.9 451.5,230.0 C451.5,233.1 450.9,236.2 451.8,238.5 C452.7,240.8 455.3,241.7 457.1,243.5 C458.9,245.3 461.1,247.3 462.8,249.2 C464.5,251.1 465.7,253.2 467.4,254.9 C469.1,256.6 471.0,258.4 473.1,259.5 C475.2,260.6 477.8,261.1 479.9,261.8 C482.0,262.6 483.9,262.9 485.6,264.0 C487.3,265.1 489.1,267.1 490.2,268.6 C491.3,270.1 491.9,271.8 492.5,273.2 C493.1,274.6 493.6,274.2 493.8,277.0 C494.1,279.8 503.0,287.8 494.0,290.0 C485.0,292.2 449.7,301.7 440.0,290.0 C430.3,278.3 436.0,243.3 436.0,220.0 C436.0,196.7 435.1,161.7 440.0,150.0 Z" fill="#FFC30A"/>
<path d="M492.0,150.0 C491.1,151.7 490.8,157.4 490.4,160.0 C490.0,162.6 489.9,163.8 489.9,165.4 C489.9,167.0 490.6,168.3 490.5,169.7 C490.4,171.1 489.8,172.4 489.0,173.7 C488.2,174.9 487.0,176.2 485.8,177.2 C484.6,178.1 483.5,178.6 481.9,179.4 C480.3,180.2 478.0,181.1 476.0,182.0 C474.0,182.9 471.7,183.3 470.0,184.6 C468.3,185.9 466.3,188.2 465.6,190.0 C464.9,191.8 465.1,193.8 465.6,195.5 C466.1,197.2 467.6,198.9 468.5,200.5 C469.4,202.1 471.6,203.2 471.1,204.8 C470.7,206.4 468.0,208.6 465.8,210.1 C463.6,211.6 459.7,212.2 457.8,213.7 C455.9,215.2 454.8,217.2 454.2,219.0 C453.6,220.8 453.6,222.5 454.2,224.3 C454.8,226.1 456.2,228.2 457.8,229.7 C459.4,231.2 461.9,232.3 464.0,233.2 C466.1,234.1 468.4,234.8 470.2,235.0 C472.0,235.2 473.4,234.7 474.7,234.1 C476.0,233.5 476.4,233.5 478.0,231.5 C479.6,229.5 481.7,226.4 484.0,222.0 C486.3,217.6 489.7,211.2 492.0,205.0 C494.3,198.8 496.7,191.7 498.0,185.0 C499.3,178.3 500.3,170.8 500.0,165.0 C499.7,159.2 497.3,152.5 496.0,150.0 C494.7,147.5 492.9,148.3 492.0,150.0 Z" fill="#A9E2CC"/>
<path d="M497.4,168.0 C493.4,172.0 496.6,172.0 496.3,174.0 C496.0,176.0 495.7,177.8 495.3,180.0 C494.9,182.2 494.5,184.7 493.8,187.3 C493.1,189.9 492.2,193.2 491.3,195.6 C490.4,198.0 489.3,200.3 488.1,201.8 C486.9,203.3 485.6,203.9 484.0,204.8 C482.4,205.7 479.6,206.2 478.2,207.4 C476.8,208.6 475.9,210.1 475.6,211.9 C475.3,213.7 476.3,216.2 476.4,218.1 C476.5,220.0 477.0,221.6 476.4,223.4 C475.8,225.2 473.5,227.3 472.9,228.8 C472.3,230.3 472.2,231.7 473.0,232.6 C473.8,233.5 476.3,233.5 477.6,234.4 C478.9,235.3 480.6,236.1 481.0,237.8 C481.4,239.5 480.3,242.3 479.9,244.6 C479.5,246.9 478.6,249.4 478.8,251.5 C479.0,253.6 479.5,255.7 481.0,257.2 C482.5,258.7 485.6,259.7 487.9,260.6 C490.2,261.6 493.1,261.8 494.7,262.9 C496.3,264.0 496.8,266.0 497.5,267.5 C498.2,269.0 498.3,270.8 499.2,272.0 C500.1,273.2 501.7,274.7 503.0,274.6 C504.3,274.5 505.9,272.7 507.0,271.5 C508.1,270.3 509.0,269.2 509.5,267.4 C510.0,265.6 510.6,262.7 510.2,260.6 C509.8,258.5 508.1,256.8 506.8,254.9 C505.5,253.0 503.4,251.1 502.2,249.2 C501.0,247.3 499.5,245.2 499.5,243.5 C499.5,241.8 500.6,240.1 502.2,238.9 C503.8,237.8 505.6,237.1 509.0,236.6 C512.4,236.1 518.5,236.4 522.7,236.0 C526.9,235.6 530.7,235.1 534.1,234.4 C537.5,233.8 539.6,232.8 543.2,232.1 C546.9,231.4 553.2,235.3 556.0,230.0 C558.8,224.7 560.0,211.7 560.0,200.0 C560.0,188.3 562.7,168.3 556.0,160.0 C549.3,151.7 529.8,148.7 520.0,150.0 C510.2,151.3 501.3,164.0 497.4,168.0 Z" fill="#30C2F2"/>
<path d="M556.0,230.0 C552.2,225.3 546.9,231.4 543.2,232.1 C539.6,232.8 537.5,233.8 534.1,234.4 C530.7,235.1 526.9,235.6 522.7,236.0 C518.5,236.4 512.4,236.1 509.0,236.6 C505.6,237.1 503.8,237.8 502.2,238.9 C500.6,240.1 499.5,241.8 499.5,243.5 C499.5,245.2 501.0,247.3 502.2,249.2 C503.4,251.1 505.5,253.0 506.8,254.9 C508.1,256.8 509.8,258.5 510.2,260.6 C510.6,262.7 510.0,265.6 509.5,267.4 C509.0,269.2 508.1,270.3 507.0,271.5 C505.9,272.7 504.2,273.8 503.0,274.6 C501.8,275.4 500.5,275.3 499.5,276.5 C498.5,277.7 496.9,279.4 497.0,282.0 C497.1,284.6 489.5,290.3 500.0,292.0 C510.5,293.7 549.0,297.3 560.0,292.0 C571.0,286.7 566.7,270.3 566.0,260.0 C565.3,249.7 559.8,234.7 556.0,230.0 Z" fill="#A9E2CC"/>
<path d="M506.0,176.0 C501.6,179.5 504.4,179.8 503.8,181.0 C503.2,182.2 503.2,182.0 502.5,183.5 C501.8,185.0 500.4,187.5 499.6,189.8 C498.8,192.2 498.0,195.0 497.6,197.6 C497.2,200.2 497.1,202.9 497.3,205.5 C497.5,208.1 498.1,211.0 498.6,213.3 C499.2,215.6 499.8,217.2 500.6,219.2 C501.4,221.2 502.0,223.3 503.5,225.1 C505.0,226.9 507.1,228.8 509.4,230.0 C511.7,231.2 514.5,231.8 517.3,232.0 C520.1,232.2 523.2,232.1 526.0,231.5 C528.8,230.9 531.1,229.4 534.0,228.4 C536.9,227.4 539.8,226.4 543.5,225.3 C547.2,224.2 552.9,226.2 556.0,222.0 C559.1,217.8 562.0,208.7 562.0,200.0 C562.0,191.3 561.3,176.7 556.0,170.0 C550.7,163.3 538.3,159.0 530.0,160.0 C521.7,161.0 510.4,172.5 506.0,176.0 Z" fill="#0872C6"/>
<path d="M489.6,158.0 L489.0,161.3 L487.6,163.2 L489.7,164.3 L490.6,165.6 L491.7,166.6 L492.4,168.0 L493.3,169.0 L493.6,170.6 L494.1,171.7 L495.6,173.7 L497.0,174.4 L498.4,174.3 L500.8,174.0 L501.5,175.0 L501.9,175.8 L502.4,177.4 L503.1,178.4 L503.9,180.1 L506.0,180.8 L507.8,181.8 L508.8,183.8 L510.0,185.6 L511.2,188.0 L512.7,190.0 L515.0,191.4 L517.1,192.2 L518.8,191.2 L520.4,191.1 L522.0,192.3 L523.7,192.9 L525.4,194.0 L527.0,194.4 L528.8,193.2 L530.4,192.2 L532.0,191.2 L533.7,191.1 L536.0,191.8 L538.1,191.6 L539.6,190.4 L541.0,190.0 L543.2,189.3 L548.0,188.5 L548,150 L487.5,150 Z" fill="#FFFFFF"/>
<polyline points="489.6,158.0 489.0,161.3 487.6,163.2 489.7,164.3 490.6,165.6 491.7,166.6 492.4,168.0 493.3,169.0 493.6,170.6 494.1,171.7 495.6,173.7 497.0,174.4 498.4,174.3 500.8,174.0 501.5,175.0 501.9,175.8 502.4,177.4 503.1,178.4 503.9,180.1 506.0,180.8 507.8,181.8 508.8,183.8 510.0,185.6 511.2,188.0 512.7,190.0 515.0,191.4 517.1,192.2 518.8,191.2 520.4,191.1 522.0,192.3 523.7,192.9 525.4,194.0 527.0,194.4 528.8,193.2 530.4,192.2 532.0,191.2 533.7,191.1 536.0,191.8 538.1,191.6 539.6,190.4 541.0,190.0 543.2,189.3 548.0,188.5" fill="none" stroke="#222" stroke-width="0.80" stroke-linejoin="round"/>
<path d="M448.0,260.0 L451.4,260.6 L454.5,262.2 L457.1,262.9 L460.5,263.2 L464.0,264.0 L467.0,264.4 L469.7,265.6 L472.0,267.4 L474.2,268.6 L475.6,270.6 L477.6,272.0 L480.0,273.6 L482.2,274.7 L484.5,276.0 L487.0,280.0 L448,280 Z" fill="#FFFFFF"/>
<polyline points="448.0,260.0 451.4,260.6 454.5,262.2 457.1,262.9 460.5,263.2 464.0,264.0 467.0,264.4 469.7,265.6 472.0,267.4 474.2,268.6 475.6,270.6 477.6,272.0 480.0,273.6 482.2,274.7 484.5,276.0 487.0,280.0" fill="none" stroke="#222" stroke-width="0.80" stroke-linejoin="round"/>
<path d="M548.0,239.0 L543.2,243.5 L541.4,246.2 L539.8,248.0 L537.6,250.0 L536.4,252.6 L534.0,254.6 L531.8,257.1 L529.8,259.8 L527.3,261.7 L524.8,263.0 L522.7,265.1 L521.4,267.6 L519.3,269.7 L518.4,272.0 L517.0,274.2 L515.4,276.0 L514.0,280.0 L548,280 Z" fill="#FFFFFF"/>
<polyline points="548.0,239.0 543.2,243.5 541.4,246.2 539.8,248.0 537.6,250.0 536.4,252.6 534.0,254.6 531.8,257.1 529.8,259.8 527.3,261.7 524.8,263.0 522.7,265.1 521.4,267.6 519.3,269.7 518.4,272.0 517.0,274.2 515.4,276.0 514.0,280.0" fill="none" stroke="#222" stroke-width="0.80" stroke-linejoin="round"/>
</g>
<rect x="451.0" y="161.0" width="92.5" height="115.0" fill="none" stroke="#222" stroke-width="1"/>
<polyline points="504.6,188.1 491.3,211.0 486.3,221.1 481.8,238.2 479.6,249.7" fill="none" stroke="#E62A30" stroke-width="1.00" />
<circle cx="504.6" cy="188.1" r="0.75" fill="#B82828"/>
<text x="492.8" y="189.4" font-size="5.1" textLength="8.9" lengthAdjust="spacingAndGlyphs" fill="#3c3c3c">TY1</text>
<circle cx="491.3" cy="211.0" r="0.75" fill="#B82828"/>
<text x="494.0" y="213.1" font-size="5.1" textLength="12.0" lengthAdjust="spacingAndGlyphs" fill="#3c3c3c">C34-6</text>
<circle cx="486.3" cy="221.1" r="0.75" fill="#B82828"/>
<text x="489.3" y="223.2" font-size="5.1" textLength="8.2" lengthAdjust="spacingAndGlyphs" fill="#3c3c3c">CY8</text>
<circle cx="481.8" cy="238.2" r="0.75" fill="#B82828"/>
<text x="483.5" y="240.0" font-size="5.1" textLength="11.0" lengthAdjust="spacingAndGlyphs" fill="#3c3c3c">Q195</text>
<circle cx="479.6" cy="249.7" r="0.75" fill="#B82828"/>
<text x="481.2" y="251.5" font-size="5.1" textLength="11.2" lengthAdjust="spacingAndGlyphs" fill="#3c3c3c">H197</text>
<polyline points="504.4,168.4 504.4,171.3 530.8,171.3 530.8,168.4" fill="none" stroke="#222" stroke-width="0.90" />
<line x1="517.5" y1="168.8" x2="517.5" y2="171.3" stroke="#222" stroke-width="0.80" />
<text x="504.3" y="167.4" font-size="5.4" text-anchor="middle" fill="#333">0</text>
<text x="517.5" y="167.4" font-size="5.4" text-anchor="middle" fill="#333">5</text>
<text x="524.8" y="167.4" font-size="5.4" text-anchor="start" fill="#333">10km</text>
</svg>
</body></html>
